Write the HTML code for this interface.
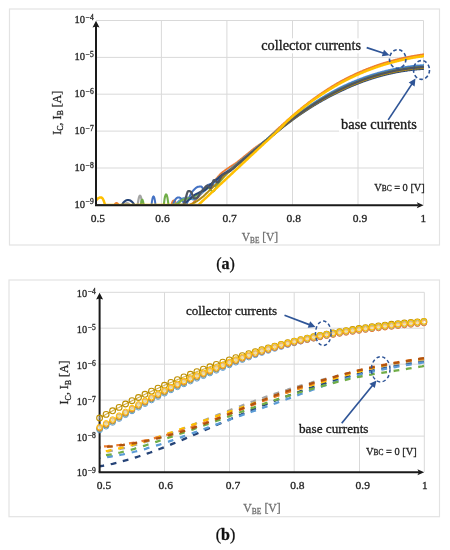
<!DOCTYPE html><html><head><meta charset="utf-8"><style>html,body{margin:0;padding:0;background:#fff;}svg{display:block;}text{font-family:"Liberation Serif",serif;stroke-width:0.3px;}</style></head><body>
<svg width="450" height="550" viewBox="0 0 450 550">
<defs><clipPath id="ca"><rect x="96" y="15" width="328" height="189.3"/></clipPath><clipPath id="cb"><rect x="99.6" y="285" width="326" height="186.3"/></clipPath></defs>
<rect x="0" y="0" width="450" height="550" fill="#fff"/>
<rect x="9.5" y="9" width="430" height="236" fill="none" stroke="#e3e3e3" stroke-width="1.2"/>
<path d="M161.4 20.5V204.8 M226.9 20.5V204.8 M292.5 20.5V204.8 M358.0 20.5V204.8 M423.5 20.5V204.8 M96.0 20.5H423.5 M96.0 57.4H423.5 M96.0 94.2H423.5 M96.0 131.1H423.5 M96.0 168.0H423.5" stroke="#d9d9d9" stroke-width="1" fill="none"/>
<g clip-path="url(#ca)" fill="none" stroke-linejoin="round" stroke-linecap="round">
<path d="M94.0 205.0L94.5 205.0 95.0 205.0 95.5 205.0 96.0 205.0 96.5 205.0 97.0 205.0 97.5 205.0 98.0 205.0 98.5 205.0 99.0 205.0 99.5 205.0 100.0 205.0 100.5 205.0 101.0 205.0 101.5 205.0 102.0 205.0 102.5 205.0 103.0 205.0 103.5 205.0 104.0 205.0 104.5 205.0 105.0 205.0 105.5 205.0 106.0 205.0 106.5 205.0 107.0 205.0 107.5 205.0 108.0 205.0 108.5 205.0 109.0 205.0 109.5 205.0 110.0 205.0 110.5 205.0 111.0 205.0 111.5 205.0 112.0 205.0 112.5 205.0 113.0 205.0 113.5 205.0 114.0 205.0 114.5 205.0 115.0 204.0 115.5 203.4 116.0 203.1 116.5 203.0 117.0 203.1 117.5 203.4 118.0 204.0 118.5 205.0 119.0 205.0 119.5 205.0 120.0 205.0 120.5 205.0 121.0 205.0 121.5 205.0 122.0 205.0 122.5 205.0 123.0 205.0 123.5 205.0 124.0 205.0 124.5 205.0 125.0 205.0 125.5 205.0 126.0 205.0 126.5 205.0 127.0 205.0 127.5 205.0 128.0 205.0 128.5 205.0 129.0 205.0 129.5 205.0 130.0 205.0 130.5 205.0 131.0 205.0 131.5 205.0 132.0 205.0 132.5 205.0 133.0 205.0 133.5 205.0 134.0 205.0 134.5 205.0 135.0 205.0 135.5 205.0 136.0 205.0 136.5 205.0 137.0 205.0 137.5 205.0 138.0 205.0 138.5 205.0 139.0 205.0 139.5 205.0 140.0 205.0 140.5 205.0 141.0 205.0 141.5 205.0 142.0 205.0 142.5 205.0 143.0 205.0 143.5 205.0 144.0 205.0 144.5 205.0 145.0 205.0 145.5 205.0 146.0 205.0 146.5 205.0 147.0 205.0 147.5 205.0 148.0 205.0 148.5 205.0 149.0 205.0 149.5 205.0 150.0 205.0 150.5 205.0 151.0 205.0 151.5 205.0 152.0 205.0 152.5 205.0 153.0 205.0 153.5 205.0 154.0 205.0 154.5 205.0 155.0 205.0 155.5 205.0 156.0 205.0 156.5 205.0 157.0 205.0 157.5 205.0 158.0 205.0 158.5 205.0 159.0 205.0 159.5 205.0 160.0 205.0 160.5 205.0 161.0 205.0 161.5 205.0 162.0 205.0 162.5 205.0 163.0 205.0 163.5 205.0 164.0 205.0 164.5 205.0 165.0 205.0 165.5 205.0 166.0 205.0 166.5 205.0 167.0 205.0 167.5 205.0 168.0 205.0 168.5 205.0 169.0 205.0 169.5 205.0 170.0 205.0 170.5 205.0 171.0 205.0 171.5 204.3 172.0 202.7 172.5 201.6 173.0 200.8 173.5 200.5 174.0 200.4 174.5 200.7 175.0 201.2 175.5 202.1 176.0 203.3 176.5 205.0 177.0 205.0 177.5 205.0 178.0 205.0 178.5 205.0 179.0 205.0 179.5 205.0 180.0 205.0 180.5 205.0 181.0 205.0 181.5 205.0 182.0 205.0 182.5 205.0 183.0 205.0 183.5 205.0 184.0 205.0 184.5 205.0 185.0 205.0 185.5 205.0 186.0 205.0 186.5 205.0 187.0 205.0 187.5 205.0 188.0 205.0 188.5 205.0 189.0 204.9 189.5 204.8 190.0 204.6 190.5 204.4 191.0 204.2 191.5 204.0 192.0 203.7 192.5 203.3 193.0 202.9 193.5 202.4 194.0 201.8 194.5 201.2 195.0 200.6 195.5 200.0 196.0 199.5 196.5 199.0 197.0 198.4 197.5 197.9 198.0 197.3 198.5 196.8 199.0 196.2 199.5 195.7 200.0 195.1 200.5 194.6 201.0 194.0 201.5 193.5 202.0 193.0 202.5 192.5 203.0 192.0 203.5 191.5 204.0 191.1 204.5 190.6 205.0 190.2 205.5 189.7 206.0 189.3 206.5 188.8 207.0 188.4 207.5 187.9 208.0 187.4 208.5 187.0 209.0 186.5 209.5 186.0 210.0 185.5 210.5 185.0 211.0 184.5 211.5 183.9 212.0 183.4 212.5 182.9 213.0 182.3 213.5 181.8 214.0 181.2 214.5 180.7 215.0 180.1 215.5 179.5 216.0 179.0 216.5 178.4 217.0 177.9 217.5 177.3 218.0 176.7 218.5 176.1 219.0 175.6 219.5 175.0 220.0 174.5 220.5 174.0 221.0 173.5 221.5 173.1 222.0 172.6 222.5 172.2 223.0 171.8 223.5 171.4 224.0 171.0 224.5 170.7 225.0 170.3 225.5 169.9 226.0 169.6 226.5 169.2 227.0 168.9 227.5 168.5 228.0 168.2 228.5 167.8 229.0 167.5 229.5 167.2 230.0 166.8 230.5 166.5 231.0 166.2 231.5 165.9 232.0 165.6 232.5 165.3 233.0 165.0 233.5 164.6 234.0 164.3 234.5 164.0 235.0 163.7 235.5 163.3 236.0 163.0 236.5 162.6 237.0 162.3 237.5 161.9 238.0 161.5 238.5 161.1 239.0 160.7 239.5 160.3 240.0 159.9 240.5 159.5 241.0 159.1 241.5 158.7 242.0 158.3 242.5 157.9 243.0 157.5 243.5 157.0 244.0 156.6 244.5 156.2 245.0 155.8 245.5 155.4 246.0 155.0 246.5 154.6 247.0 154.2 247.5 153.8 248.0 153.4 248.5 153.0 249.0 152.6 249.5 152.2 250.0 151.8 250.5 151.3 251.0 150.9 251.5 150.5 252.0 150.1 252.5 149.7 253.0 149.3 253.5 148.9 254.0 148.5 254.5 148.1 255.0 147.8 255.5 147.4 256.0 147.0 256.5 146.6 257.0 146.3 257.5 145.9 258.0 145.6 258.5 145.2 259.0 144.9 259.5 144.5 260.0 144.2 260.5 143.9 261.0 143.5 261.5 143.2 262.0 142.8 262.5 142.5 263.0 142.1 263.5 141.8 264.0 141.4 264.5 141.1 265.0 140.7 265.5 140.3 266.0 139.9 266.5 139.5 267.0 139.0 267.5 138.6 268.0 138.1 268.5 137.6 269.0 137.1 269.5 136.6 270.0 136.1 270.5 135.6 271.0 135.2 271.5 134.7 272.0 134.2 272.5 133.7 273.0 133.3 273.5 132.8 274.0 132.3 274.5 131.9 275.0 131.4 275.5 130.9 276.0 130.5 276.5 130.0 277.0 129.6 277.5 129.1 278.0 128.6 278.5 128.2 279.0 127.7 279.5 127.3 280.0 126.8 280.5 126.4 281.0 125.9 281.5 125.5 282.0 125.0 282.5 124.6 283.0 124.1 283.5 123.7 284.0 123.2 284.5 122.8 285.0 122.3 285.5 121.9 286.0 121.4 286.5 121.0 287.0 120.5 287.5 120.1 288.0 119.6 288.5 119.2 289.0 118.8 289.5 118.3 290.0 117.9 290.5 117.4 291.0 117.0 291.5 116.6 292.0 116.1 292.5 115.7 293.0 115.3 293.5 114.8 294.0 114.4 294.5 114.0 295.0 113.5 295.5 113.1 296.0 112.7 296.5 112.3 297.0 111.9 297.5 111.4 298.0 111.0 298.5 110.6 299.0 110.2 299.5 109.8 300.0 109.4 300.5 109.0 301.0 108.5 301.5 108.1 302.0 107.7 302.5 107.3 303.0 106.9 303.5 106.5 304.0 106.1 304.5 105.7 305.0 105.3 305.5 104.9 306.0 104.5 306.5 104.2 307.0 103.8 307.5 103.4 308.0 103.0 308.5 102.6 309.0 102.2 309.5 101.8 310.0 101.5 310.5 101.1 311.0 100.7 311.5 100.3 312.0 100.0 312.5 99.6 313.0 99.2 313.5 98.9 314.0 98.5 314.5 98.1 315.0 97.8 315.5 97.4 316.0 97.1 316.5 96.7 317.0 96.3 317.5 96.0 318.0 95.6 318.5 95.3 319.0 94.9 319.5 94.6 320.0 94.2 320.5 93.9 321.0 93.6 321.5 93.2 322.0 92.9 322.5 92.5 323.0 92.2 323.5 91.9 324.0 91.5 324.5 91.2 325.0 90.9 325.5 90.5 326.0 90.2 326.5 89.9 327.0 89.6 327.5 89.2 328.0 88.9 328.5 88.6 329.0 88.3 329.5 88.0 330.0 87.7 330.5 87.3 331.0 87.0 331.5 86.7 332.0 86.4 332.5 86.1 333.0 85.8 333.5 85.5 334.0 85.2 334.5 84.9 335.0 84.6 335.5 84.3 336.0 84.0 336.5 83.7 337.0 83.4 337.5 83.1 338.0 82.8 338.5 82.6 339.0 82.3 339.5 82.0 340.0 81.7 340.5 81.4 341.0 81.2 341.5 80.9 342.0 80.6 342.5 80.4 343.0 80.1 343.5 79.8 344.0 79.6 344.5 79.3 345.0 79.0 345.5 78.8 346.0 78.5 346.5 78.3 347.0 78.0 347.5 77.8 348.0 77.5 348.5 77.3 349.0 77.0 349.5 76.8 350.0 76.5 350.5 76.3 351.0 76.0 351.5 75.8 352.0 75.6 352.5 75.3 353.0 75.1 353.5 74.8 354.0 74.6 354.5 74.4 355.0 74.1 355.5 73.9 356.0 73.7 356.5 73.5 357.0 73.2 357.5 73.0 358.0 72.8 358.5 72.6 359.0 72.4 359.5 72.1 360.0 71.9 360.5 71.7 361.0 71.5 361.5 71.3 362.0 71.1 362.5 70.9 363.0 70.6 363.5 70.4 364.0 70.2 364.5 70.0 365.0 69.8 365.5 69.6 366.0 69.4 366.5 69.2 367.0 69.0 367.5 68.8 368.0 68.6 368.5 68.4 369.0 68.2 369.5 68.1 370.0 67.9 370.5 67.7 371.0 67.5 371.5 67.3 372.0 67.1 372.5 66.9 373.0 66.7 373.5 66.6 374.0 66.4 374.5 66.2 375.0 66.0 375.5 65.9 376.0 65.7 376.5 65.5 377.0 65.3 377.5 65.2 378.0 65.0 378.5 64.8 379.0 64.7 379.5 64.5 380.0 64.3 380.5 64.2 381.0 64.0 381.5 63.8 382.0 63.7 382.5 63.5 383.0 63.4 383.5 63.2 384.0 63.0 384.5 62.9 385.0 62.7 385.5 62.6 386.0 62.4 386.5 62.3 387.0 62.1 387.5 62.0 388.0 61.9 388.5 61.7 389.0 61.6 389.5 61.4 390.0 61.3 390.5 61.1 391.0 61.0 391.5 60.9 392.0 60.7 392.5 60.6 393.0 60.5 393.5 60.3 394.0 60.2 394.5 60.1 395.0 59.9 395.5 59.8 396.0 59.7 396.5 59.6 397.0 59.4 397.5 59.3 398.0 59.2 398.5 59.1 399.0 58.9 399.5 58.8 400.0 58.7 400.5 58.6 401.0 58.5 401.5 58.4 402.0 58.2 402.5 58.1 403.0 58.0 403.5 57.9 404.0 57.8 404.5 57.7 405.0 57.6 405.5 57.5 406.0 57.4 406.5 57.3 407.0 57.2 407.5 57.1 408.0 57.0 408.5 56.9 409.0 56.8 409.5 56.7 410.0 56.6 410.5 56.5 411.0 56.4 411.5 56.3 412.0 56.2 412.5 56.1 413.0 56.0 413.5 55.9 414.0 55.9 414.5 55.8 415.0 55.7 415.5 55.6 416.0 55.5 416.5 55.4 417.0 55.4 417.5 55.3 418.0 55.2 418.5 55.1 419.0 55.0 419.5 55.0 420.0 54.9 420.5 54.8 421.0 54.7 421.5 54.7 422.0 54.6 422.5 54.5 423.0 54.4 423.5 54.4 424.0 54.3 424.5 54.2 425.0 54.2" stroke="#ed7d31" stroke-width="1.9"/>
<path d="M94.0 205.0L94.5 205.0 95.0 205.0 95.5 205.0 96.0 205.0 96.5 205.0 97.0 205.0 97.5 205.0 98.0 205.0 98.5 205.0 99.0 205.0 99.5 205.0 100.0 205.0 100.5 205.0 101.0 205.0 101.5 205.0 102.0 205.0 102.5 205.0 103.0 205.0 103.5 205.0 104.0 205.0 104.5 205.0 105.0 205.0 105.5 205.0 106.0 205.0 106.5 205.0 107.0 205.0 107.5 205.0 108.0 205.0 108.5 205.0 109.0 205.0 109.5 205.0 110.0 205.0 110.5 205.0 111.0 205.0 111.5 205.0 112.0 205.0 112.5 205.0 113.0 205.0 113.5 205.0 114.0 205.0 114.5 205.0 115.0 205.0 115.5 205.0 116.0 205.0 116.5 205.0 117.0 205.0 117.5 205.0 118.0 205.0 118.5 205.0 119.0 205.0 119.5 205.0 120.0 205.0 120.5 205.0 121.0 205.0 121.5 205.0 122.0 205.0 122.5 205.0 123.0 205.0 123.5 205.0 124.0 205.0 124.5 204.6 125.0 204.1 125.5 203.7 126.0 203.4 126.5 203.3 127.0 203.2 127.5 203.3 128.0 203.4 128.5 203.7 129.0 204.1 129.5 204.6 130.0 205.0 130.5 205.0 131.0 205.0 131.5 205.0 132.0 205.0 132.5 205.0 133.0 205.0 133.5 205.0 134.0 205.0 134.5 205.0 135.0 205.0 135.5 205.0 136.0 205.0 136.5 205.0 137.0 205.0 137.5 205.0 138.0 202.6 138.5 199.4 139.0 197.3 139.5 196.0 140.0 195.6 140.5 196.0 141.0 197.3 141.5 199.4 142.0 202.6 142.5 205.0 143.0 205.0 143.5 205.0 144.0 205.0 144.5 205.0 145.0 205.0 145.5 205.0 146.0 205.0 146.5 205.0 147.0 205.0 147.5 205.0 148.0 205.0 148.5 205.0 149.0 205.0 149.5 205.0 150.0 205.0 150.5 205.0 151.0 205.0 151.5 205.0 152.0 205.0 152.5 205.0 153.0 205.0 153.5 205.0 154.0 205.0 154.5 205.0 155.0 205.0 155.5 205.0 156.0 205.0 156.5 205.0 157.0 205.0 157.5 205.0 158.0 205.0 158.5 205.0 159.0 205.0 159.5 205.0 160.0 205.0 160.5 205.0 161.0 205.0 161.5 205.0 162.0 205.0 162.5 205.0 163.0 205.0 163.5 205.0 164.0 205.0 164.5 205.0 165.0 205.0 165.5 205.0 166.0 205.0 166.5 205.0 167.0 205.0 167.5 205.0 168.0 205.0 168.5 205.0 169.0 205.0 169.5 205.0 170.0 205.0 170.5 205.0 171.0 205.0 171.5 205.0 172.0 205.0 172.5 204.9 173.0 204.7 173.5 204.5 174.0 204.4 174.5 204.2 175.0 204.0 175.5 203.7 176.0 203.5 176.5 203.2 177.0 203.0 177.5 202.6 178.0 202.3 178.5 202.0 179.0 201.6 179.5 201.3 180.0 201.0 180.5 200.7 181.0 200.3 181.5 199.9 182.0 199.6 182.5 199.2 183.0 198.8 183.5 198.4 184.0 198.1 184.5 197.9 185.0 197.7 185.5 197.5 186.0 197.5 186.5 197.5 187.0 197.6 187.5 197.6 188.0 197.7 188.5 197.8 189.0 198.0 189.5 198.1 190.0 198.2 190.5 198.4 191.0 198.5 191.5 198.7 192.0 198.8 192.5 198.9 193.0 198.9 193.5 199.0 194.0 199.0 194.5 198.9 195.0 198.8 195.5 198.6 196.0 198.2 196.5 197.8 197.0 197.4 197.5 196.9 198.0 196.4 198.5 195.8 199.0 195.2 199.5 194.7 200.0 194.1 200.5 193.5 201.0 193.0 201.5 192.5 202.0 192.0 202.5 191.6 203.0 191.1 203.5 190.7 204.0 190.2 204.5 189.8 205.0 189.4 205.5 188.9 206.0 188.5 206.5 188.0 207.0 187.6 207.5 187.2 208.0 186.7 208.5 186.3 209.0 185.9 209.5 185.4 210.0 185.0 210.5 184.6 211.0 184.1 211.5 183.7 212.0 183.2 212.5 182.8 213.0 182.3 213.5 181.9 214.0 181.4 214.5 181.0 215.0 180.6 215.5 180.1 216.0 179.7 216.5 179.2 217.0 178.8 217.5 178.4 218.0 178.0 218.5 177.6 219.0 177.2 219.5 176.9 220.0 176.5 220.5 176.2 221.0 175.8 221.5 175.5 222.0 175.2 222.5 174.9 223.0 174.6 223.5 174.3 224.0 174.0 224.5 173.8 225.0 173.5 225.5 173.2 226.0 172.9 226.5 172.7 227.0 172.4 227.5 172.1 228.0 171.8 228.5 171.5 229.0 171.2 229.5 170.8 230.0 170.5 230.5 170.1 231.0 169.8 231.5 169.4 232.0 169.0 232.5 168.6 233.0 168.2 233.5 167.8 234.0 167.3 234.5 166.9 235.0 166.5 235.5 166.0 236.0 165.6 236.5 165.1 237.0 164.7 237.5 164.2 238.0 163.8 238.5 163.3 239.0 162.9 239.5 162.4 240.0 162.0 240.5 161.5 241.0 161.1 241.5 160.7 242.0 160.3 242.5 159.8 243.0 159.4 243.5 159.0 244.0 158.6 244.5 158.2 245.0 157.8 245.5 157.4 246.0 157.0 246.5 156.6 247.0 156.2 247.5 155.8 248.0 155.4 248.5 155.0 249.0 154.6 249.5 154.2 250.0 153.8 250.5 153.3 251.0 152.9 251.5 152.5 252.0 152.1 252.5 151.7 253.0 151.3 253.5 150.9 254.0 150.4 254.5 150.0 255.0 149.6 255.5 149.2 256.0 148.8 256.5 148.3 257.0 147.9 257.5 147.5 258.0 147.1 258.5 146.7 259.0 146.2 259.5 145.8 260.0 145.4 260.5 145.0 261.0 144.6 261.5 144.1 262.0 143.7 262.5 143.3 263.0 142.9 263.5 142.5 264.0 142.0 264.5 141.6 265.0 141.2 265.5 140.8 266.0 140.3 266.5 139.9 267.0 139.5 267.5 139.1 268.0 138.7 268.5 138.2 269.0 137.8 269.5 137.4 270.0 137.0 270.5 136.6 271.0 136.1 271.5 135.7 272.0 135.3 272.5 134.9 273.0 134.5 273.5 134.1 274.0 133.6 274.5 133.2 275.0 132.8 275.5 132.4 276.0 132.0 276.5 131.6 277.0 131.2 277.5 130.7 278.0 130.3 278.5 129.9 279.0 129.5 279.5 129.1 280.0 128.7 280.5 128.3 281.0 127.9 281.5 127.5 282.0 127.1 282.5 126.7 283.0 126.3 283.5 125.9 284.0 125.5 284.5 125.1 285.0 124.7 285.5 124.3 286.0 123.9 286.5 123.5 287.0 123.1 287.5 122.7 288.0 122.3 288.5 121.9 289.0 121.5 289.5 121.1 290.0 120.7 290.5 120.3 291.0 119.9 291.5 119.6 292.0 119.2 292.5 118.8 293.0 118.4 293.5 118.0 294.0 117.7 294.5 117.3 295.0 116.9 295.5 116.5 296.0 116.2 296.5 115.8 297.0 115.4 297.5 115.1 298.0 114.7 298.5 114.3 299.0 114.0 299.5 113.6 300.0 113.2 300.5 112.9 301.0 112.5 301.5 112.2 302.0 111.8 302.5 111.5 303.0 111.1 303.5 110.8 304.0 110.4 304.5 110.1 305.0 109.7 305.5 109.4 306.0 109.0 306.5 108.7 307.0 108.3 307.5 108.0 308.0 107.7 308.5 107.3 309.0 107.0 309.5 106.7 310.0 106.3 310.5 106.0 311.0 105.7 311.5 105.3 312.0 105.0 312.5 104.7 313.0 104.4 313.5 104.1 314.0 103.7 314.5 103.4 315.0 103.1 315.5 102.8 316.0 102.5 316.5 102.2 317.0 101.8 317.5 101.5 318.0 101.2 318.5 100.9 319.0 100.6 319.5 100.3 320.0 100.0 320.5 99.7 321.0 99.4 321.5 99.1 322.0 98.8 322.5 98.5 323.0 98.2 323.5 97.9 324.0 97.6 324.5 97.3 325.0 97.0 325.5 96.8 326.0 96.5 326.5 96.2 327.0 95.9 327.5 95.6 328.0 95.3 328.5 95.1 329.0 94.8 329.5 94.5 330.0 94.2 330.5 94.0 331.0 93.7 331.5 93.4 332.0 93.1 332.5 92.9 333.0 92.6 333.5 92.3 334.0 92.1 334.5 91.8 335.0 91.6 335.5 91.3 336.0 91.0 336.5 90.8 337.0 90.5 337.5 90.3 338.0 90.0 338.5 89.8 339.0 89.5 339.5 89.3 340.0 89.0 340.5 88.8 341.0 88.5 341.5 88.3 342.0 88.0 342.5 87.8 343.0 87.6 343.5 87.3 344.0 87.1 344.5 86.9 345.0 86.6 345.5 86.4 346.0 86.2 346.5 85.9 347.0 85.7 347.5 85.5 348.0 85.3 348.5 85.0 349.0 84.8 349.5 84.6 350.0 84.4 350.5 84.2 351.0 84.0 351.5 83.7 352.0 83.5 352.5 83.3 353.0 83.1 353.5 82.9 354.0 82.7 354.5 82.5 355.0 82.3 355.5 82.1 356.0 81.9 356.5 81.7 357.0 81.5 357.5 81.3 358.0 81.1 358.5 80.9 359.0 80.7 359.5 80.5 360.0 80.3 360.5 80.1 361.0 79.9 361.5 79.7 362.0 79.6 362.5 79.4 363.0 79.2 363.5 79.0 364.0 78.8 364.5 78.6 365.0 78.5 365.5 78.3 366.0 78.1 366.5 77.9 367.0 77.8 367.5 77.6 368.0 77.4 368.5 77.2 369.0 77.1 369.5 76.9 370.0 76.8 370.5 76.6 371.0 76.4 371.5 76.3 372.0 76.1 372.5 75.9 373.0 75.8 373.5 75.6 374.0 75.5 374.5 75.3 375.0 75.2 375.5 75.0 376.0 74.9 376.5 74.7 377.0 74.6 377.5 74.4 378.0 74.3 378.5 74.1 379.0 74.0 379.5 73.9 380.0 73.7 380.5 73.6 381.0 73.4 381.5 73.3 382.0 73.2 382.5 73.0 383.0 72.9 383.5 72.8 384.0 72.7 384.5 72.5 385.0 72.4 385.5 72.3 386.0 72.1 386.5 72.0 387.0 71.9 387.5 71.8 388.0 71.7 388.5 71.5 389.0 71.4 389.5 71.3 390.0 71.2 390.5 71.1 391.0 71.0 391.5 70.9 392.0 70.8 392.5 70.7 393.0 70.5 393.5 70.4 394.0 70.3 394.5 70.2 395.0 70.1 395.5 70.0 396.0 69.9 396.5 69.8 397.0 69.7 397.5 69.6 398.0 69.6 398.5 69.5 399.0 69.4 399.5 69.3 400.0 69.2 400.5 69.1 401.0 69.0 401.5 68.9 402.0 68.9 402.5 68.8 403.0 68.7 403.5 68.6 404.0 68.5 404.5 68.5 405.0 68.4 405.5 68.3 406.0 68.2 406.5 68.2 407.0 68.1 407.5 68.0 408.0 67.9 408.5 67.9 409.0 67.8 409.5 67.7 410.0 67.7 410.5 67.6 411.0 67.6 411.5 67.5 412.0 67.4 412.5 67.4 413.0 67.3 413.5 67.3 414.0 67.2 414.5 67.2 415.0 67.1 415.5 67.1 416.0 67.0 416.5 67.0 417.0 66.9 417.5 66.9 418.0 66.8 418.5 66.8 419.0 66.7 419.5 66.7 420.0 66.7 420.5 66.6 421.0 66.6 421.5 66.6 422.0 66.5 422.5 66.5 423.0 66.5 423.5 66.4 424.0 66.4 424.5 66.4 425.0 66.3" stroke="#a5a5a5" stroke-width="2.2"/>
<path d="M94.0 205.0L94.5 205.0 95.0 205.0 95.5 205.0 96.0 205.0 96.5 205.0 97.0 205.0 97.5 205.0 98.0 205.0 98.5 205.0 99.0 205.0 99.5 205.0 100.0 205.0 100.5 205.0 101.0 205.0 101.5 205.0 102.0 205.0 102.5 205.0 103.0 205.0 103.5 205.0 104.0 205.0 104.5 205.0 105.0 205.0 105.5 205.0 106.0 205.0 106.5 205.0 107.0 205.0 107.5 205.0 108.0 205.0 108.5 205.0 109.0 205.0 109.5 205.0 110.0 205.0 110.5 205.0 111.0 205.0 111.5 205.0 112.0 205.0 112.5 205.0 113.0 205.0 113.5 205.0 114.0 205.0 114.5 205.0 115.0 205.0 115.5 205.0 116.0 205.0 116.5 205.0 117.0 205.0 117.5 205.0 118.0 205.0 118.5 205.0 119.0 205.0 119.5 205.0 120.0 205.0 120.5 205.0 121.0 205.0 121.5 205.0 122.0 205.0 122.5 205.0 123.0 205.0 123.5 205.0 124.0 205.0 124.5 205.0 125.0 205.0 125.5 205.0 126.0 205.0 126.5 205.0 127.0 205.0 127.5 205.0 128.0 205.0 128.5 205.0 129.0 205.0 129.5 205.0 130.0 205.0 130.5 205.0 131.0 205.0 131.5 205.0 132.0 205.0 132.5 205.0 133.0 205.0 133.5 205.0 134.0 205.0 134.5 205.0 135.0 205.0 135.5 205.0 136.0 205.0 136.5 205.0 137.0 205.0 137.5 205.0 138.0 205.0 138.5 205.0 139.0 205.0 139.5 205.0 140.0 205.0 140.5 205.0 141.0 205.0 141.5 205.0 142.0 205.0 142.5 205.0 143.0 205.0 143.5 205.0 144.0 205.0 144.5 205.0 145.0 205.0 145.5 205.0 146.0 205.0 146.5 205.0 147.0 205.0 147.5 205.0 148.0 205.0 148.5 205.0 149.0 205.0 149.5 205.0 150.0 205.0 150.5 205.0 151.0 205.0 151.5 205.0 152.0 205.0 152.5 205.0 153.0 205.0 153.5 205.0 154.0 205.0 154.5 205.0 155.0 205.0 155.5 205.0 156.0 205.0 156.5 205.0 157.0 205.0 157.5 205.0 158.0 205.0 158.5 205.0 159.0 205.0 159.5 205.0 160.0 205.0 160.5 205.0 161.0 205.0 161.5 205.0 162.0 205.0 162.5 205.0 163.0 205.0 163.5 205.0 164.0 205.0 164.5 205.0 165.0 205.0 165.5 205.0 166.0 205.0 166.5 205.0 167.0 205.0 167.5 205.0 168.0 205.0 168.5 205.0 169.0 205.0 169.5 205.0 170.0 205.0 170.5 205.0 171.0 205.0 171.5 205.0 172.0 205.0 172.5 205.0 173.0 205.0 173.5 205.0 174.0 205.0 174.5 205.0 175.0 205.0 175.5 205.0 176.0 205.0 176.5 204.2 177.0 203.4 177.5 202.7 178.0 202.1 178.5 201.5 179.0 201.0 179.5 200.6 180.0 200.2 180.5 199.8 181.0 199.4 181.5 199.1 182.0 198.8 182.5 198.6 183.0 198.5 183.5 198.4 184.0 198.3 184.5 198.3 185.0 198.2 185.5 198.1 186.0 198.1 186.5 198.1 187.0 198.0 187.5 198.0 188.0 198.0 188.5 198.0 189.0 198.1 189.5 198.2 190.0 198.4 190.5 198.6 191.0 198.8 191.5 198.9 192.0 199.1 192.5 199.3 193.0 199.4 193.5 199.5 194.0 199.5 194.5 199.4 195.0 199.2 195.5 199.0 196.0 198.6 196.5 198.1 197.0 197.6 197.5 197.1 198.0 196.5 198.5 196.0 199.0 195.5 199.5 195.0 200.0 194.5 200.5 194.1 201.0 193.7 201.5 193.2 202.0 192.8 202.5 192.4 203.0 192.0 203.5 191.5 204.0 191.1 204.5 190.7 205.0 190.2 205.5 189.8 206.0 189.4 206.5 189.0 207.0 188.5 207.5 188.1 208.0 187.7 208.5 187.3 209.0 186.8 209.5 186.4 210.0 186.0 210.5 185.6 211.0 185.2 211.5 184.7 212.0 184.3 212.5 183.9 213.0 183.5 213.5 183.1 214.0 182.7 214.5 182.3 215.0 181.8 215.5 181.4 216.0 181.0 216.5 180.6 217.0 180.2 217.5 179.8 218.0 179.4 218.5 179.0 219.0 178.5 219.5 178.1 220.0 177.7 220.5 177.3 221.0 176.9 221.5 176.5 222.0 176.1 222.5 175.7 223.0 175.3 223.5 174.9 224.0 174.5 224.5 174.0 225.0 173.6 225.5 173.2 226.0 172.8 226.5 172.4 227.0 172.0 227.5 171.6 228.0 171.2 228.5 170.8 229.0 170.4 229.5 170.0 230.0 169.5 230.5 169.1 231.0 168.7 231.5 168.3 232.0 167.9 232.5 167.5 233.0 167.1 233.5 166.7 234.0 166.3 234.5 165.9 235.0 165.5 235.5 165.1 236.0 164.7 236.5 164.3 237.0 163.9 237.5 163.5 238.0 163.0 238.5 162.6 239.0 162.2 239.5 161.8 240.0 161.4 240.5 161.0 241.0 160.6 241.5 160.2 242.0 159.8 242.5 159.4 243.0 159.0 243.5 158.6 244.0 158.2 244.5 157.8 245.0 157.4 245.5 157.0 246.0 156.6 246.5 156.2 247.0 155.8 247.5 155.4 248.0 154.9 248.5 154.5 249.0 154.1 249.5 153.7 250.0 153.3 250.5 152.9 251.0 152.5 251.5 152.1 252.0 151.6 252.5 151.2 253.0 150.8 253.5 150.4 254.0 150.0 254.5 149.6 255.0 149.1 255.5 148.7 256.0 148.3 256.5 147.9 257.0 147.5 257.5 147.1 258.0 146.6 258.5 146.2 259.0 145.8 259.5 145.4 260.0 144.9 260.5 144.5 261.0 144.1 261.5 143.7 262.0 143.3 262.5 142.8 263.0 142.4 263.5 142.0 264.0 141.6 264.5 141.2 265.0 140.7 265.5 140.3 266.0 139.9 266.5 139.5 267.0 139.0 267.5 138.6 268.0 138.2 268.5 137.8 269.0 137.4 269.5 136.9 270.0 136.5 270.5 136.1 271.0 135.7 271.5 135.3 272.0 134.9 272.5 134.4 273.0 134.0 273.5 133.6 274.0 133.2 274.5 132.8 275.0 132.4 275.5 131.9 276.0 131.5 276.5 131.1 277.0 130.7 277.5 130.3 278.0 129.9 278.5 129.5 279.0 129.1 279.5 128.7 280.0 128.2 280.5 127.8 281.0 127.4 281.5 127.0 282.0 126.6 282.5 126.2 283.0 125.8 283.5 125.4 284.0 125.0 284.5 124.6 285.0 124.2 285.5 123.8 286.0 123.4 286.5 123.0 287.0 122.6 287.5 122.2 288.0 121.8 288.5 121.4 289.0 121.0 289.5 120.6 290.0 120.2 290.5 119.8 291.0 119.4 291.5 119.0 292.0 118.6 292.5 118.2 293.0 117.8 293.5 117.5 294.0 117.1 294.5 116.7 295.0 116.3 295.5 115.9 296.0 115.5 296.5 115.2 297.0 114.8 297.5 114.4 298.0 114.0 298.5 113.7 299.0 113.3 299.5 112.9 300.0 112.6 300.5 112.2 301.0 111.8 301.5 111.5 302.0 111.1 302.5 110.7 303.0 110.4 303.5 110.0 304.0 109.7 304.5 109.3 305.0 109.0 305.5 108.6 306.0 108.3 306.5 107.9 307.0 107.6 307.5 107.2 308.0 106.9 308.5 106.5 309.0 106.2 309.5 105.8 310.0 105.5 310.5 105.2 311.0 104.8 311.5 104.5 312.0 104.2 312.5 103.8 313.0 103.5 313.5 103.2 314.0 102.8 314.5 102.5 315.0 102.2 315.5 101.9 316.0 101.5 316.5 101.2 317.0 100.9 317.5 100.6 318.0 100.3 318.5 99.9 319.0 99.6 319.5 99.3 320.0 99.0 320.5 98.7 321.0 98.4 321.5 98.1 322.0 97.8 322.5 97.5 323.0 97.2 323.5 96.9 324.0 96.6 324.5 96.3 325.0 96.0 325.5 95.7 326.0 95.4 326.5 95.1 327.0 94.8 327.5 94.5 328.0 94.2 328.5 93.9 329.0 93.7 329.5 93.4 330.0 93.1 330.5 92.8 331.0 92.5 331.5 92.2 332.0 92.0 332.5 91.7 333.0 91.4 333.5 91.1 334.0 90.9 334.5 90.6 335.0 90.3 335.5 90.1 336.0 89.8 336.5 89.5 337.0 89.3 337.5 89.0 338.0 88.7 338.5 88.5 339.0 88.2 339.5 88.0 340.0 87.7 340.5 87.5 341.0 87.2 341.5 87.0 342.0 86.8 342.5 86.5 343.0 86.3 343.5 86.0 344.0 85.8 344.5 85.6 345.0 85.3 345.5 85.1 346.0 84.9 346.5 84.6 347.0 84.4 347.5 84.2 348.0 84.0 348.5 83.7 349.0 83.5 349.5 83.3 350.0 83.1 350.5 82.9 351.0 82.7 351.5 82.4 352.0 82.2 352.5 82.0 353.0 81.8 353.5 81.6 354.0 81.4 354.5 81.2 355.0 81.0 355.5 80.8 356.0 80.6 356.5 80.4 357.0 80.2 357.5 80.0 358.0 79.8 358.5 79.6 359.0 79.4 359.5 79.2 360.0 79.0 360.5 78.8 361.0 78.6 361.5 78.4 362.0 78.3 362.5 78.1 363.0 77.9 363.5 77.7 364.0 77.5 364.5 77.3 365.0 77.2 365.5 77.0 366.0 76.8 366.5 76.6 367.0 76.5 367.5 76.3 368.0 76.1 368.5 75.9 369.0 75.8 369.5 75.6 370.0 75.5 370.5 75.3 371.0 75.1 371.5 75.0 372.0 74.8 372.5 74.6 373.0 74.5 373.5 74.3 374.0 74.2 374.5 74.0 375.0 73.9 375.5 73.7 376.0 73.6 376.5 73.4 377.0 73.3 377.5 73.1 378.0 73.0 378.5 72.8 379.0 72.7 379.5 72.6 380.0 72.4 380.5 72.3 381.0 72.1 381.5 72.0 382.0 71.9 382.5 71.7 383.0 71.6 383.5 71.5 384.0 71.4 384.5 71.2 385.0 71.1 385.5 71.0 386.0 70.8 386.5 70.7 387.0 70.6 387.5 70.5 388.0 70.4 388.5 70.2 389.0 70.1 389.5 70.0 390.0 69.9 390.5 69.8 391.0 69.7 391.5 69.6 392.0 69.5 392.5 69.4 393.0 69.2 393.5 69.1 394.0 69.0 394.5 68.9 395.0 68.8 395.5 68.7 396.0 68.6 396.5 68.5 397.0 68.4 397.5 68.3 398.0 68.3 398.5 68.2 399.0 68.1 399.5 68.0 400.0 67.9 400.5 67.8 401.0 67.7 401.5 67.6 402.0 67.6 402.5 67.5 403.0 67.4 403.5 67.3 404.0 67.2 404.5 67.2 405.0 67.1 405.5 67.0 406.0 66.9 406.5 66.9 407.0 66.8 407.5 66.7 408.0 66.6 408.5 66.6 409.0 66.5 409.5 66.4 410.0 66.4 410.5 66.3 411.0 66.3 411.5 66.2 412.0 66.1 412.5 66.1 413.0 66.0 413.5 66.0 414.0 65.9 414.5 65.9 415.0 65.8 415.5 65.8 416.0 65.7 416.5 65.7 417.0 65.6 417.5 65.6 418.0 65.5 418.5 65.5 419.0 65.4 419.5 65.4 420.0 65.4 420.5 65.3 421.0 65.3 421.5 65.3 422.0 65.2 422.5 65.2 423.0 65.2 423.5 65.1 424.0 65.1 424.5 65.1 425.0 65.0" stroke="#5b9bd5" stroke-width="2.0"/>
<path d="M94.0 205.0L94.5 205.0 95.0 205.0 95.5 205.0 96.0 205.0 96.5 205.0 97.0 205.0 97.5 205.0 98.0 205.0 98.5 205.0 99.0 205.0 99.5 205.0 100.0 205.0 100.5 205.0 101.0 205.0 101.5 205.0 102.0 205.0 102.5 205.0 103.0 205.0 103.5 205.0 104.0 205.0 104.5 205.0 105.0 205.0 105.5 205.0 106.0 205.0 106.5 205.0 107.0 205.0 107.5 205.0 108.0 205.0 108.5 205.0 109.0 205.0 109.5 205.0 110.0 205.0 110.5 205.0 111.0 205.0 111.5 205.0 112.0 205.0 112.5 205.0 113.0 205.0 113.5 205.0 114.0 205.0 114.5 205.0 115.0 205.0 115.5 205.0 116.0 205.0 116.5 205.0 117.0 205.0 117.5 205.0 118.0 205.0 118.5 205.0 119.0 205.0 119.5 205.0 120.0 205.0 120.5 205.0 121.0 205.0 121.5 205.0 122.0 205.0 122.5 205.0 123.0 205.0 123.5 205.0 124.0 205.0 124.5 205.0 125.0 205.0 125.5 205.0 126.0 205.0 126.5 205.0 127.0 205.0 127.5 205.0 128.0 205.0 128.5 205.0 129.0 205.0 129.5 205.0 130.0 205.0 130.5 205.0 131.0 205.0 131.5 205.0 132.0 205.0 132.5 205.0 133.0 205.0 133.5 205.0 134.0 205.0 134.5 205.0 135.0 205.0 135.5 205.0 136.0 205.0 136.5 205.0 137.0 205.0 137.5 205.0 138.0 205.0 138.5 205.0 139.0 205.0 139.5 205.0 140.0 205.0 140.5 205.0 141.0 205.0 141.5 205.0 142.0 205.0 142.5 205.0 143.0 205.0 143.5 205.0 144.0 205.0 144.5 205.0 145.0 205.0 145.5 205.0 146.0 205.0 146.5 205.0 147.0 205.0 147.5 205.0 148.0 205.0 148.5 205.0 149.0 205.0 149.5 205.0 150.0 205.0 150.5 205.0 151.0 205.0 151.5 205.0 152.0 201.1 152.5 198.5 153.0 196.9 153.5 196.4 154.0 196.9 154.5 198.5 155.0 201.1 155.5 205.0 156.0 205.0 156.5 205.0 157.0 205.0 157.5 205.0 158.0 205.0 158.5 205.0 159.0 205.0 159.5 205.0 160.0 205.0 160.5 205.0 161.0 205.0 161.5 205.0 162.0 205.0 162.5 205.0 163.0 205.0 163.5 205.0 164.0 205.0 164.5 205.0 165.0 205.0 165.5 205.0 166.0 205.0 166.5 205.0 167.0 205.0 167.5 205.0 168.0 205.0 168.5 205.0 169.0 205.0 169.5 205.0 170.0 205.0 170.5 205.0 171.0 205.0 171.5 205.0 172.0 205.0 172.5 205.0 173.0 205.0 173.5 203.1 174.0 201.9 174.5 200.9 175.0 200.1 175.5 199.3 176.0 198.8 176.5 198.3 177.0 197.9 177.5 197.6 178.0 197.5 178.5 197.4 179.0 197.5 179.5 197.6 180.0 197.9 180.5 198.2 181.0 198.7 181.5 199.2 182.0 199.9 182.5 200.6 183.0 201.5 183.5 202.6 184.0 204.0 184.5 205.0 185.0 205.0 185.5 205.0 186.0 205.0 186.5 205.0 187.0 203.4 187.5 201.9 188.0 200.5 188.5 199.2 189.0 198.0 189.5 196.9 190.0 195.8 190.5 194.8 191.0 193.8 191.5 192.9 192.0 192.1 192.5 191.4 193.0 190.8 193.5 190.2 194.0 189.7 194.5 189.2 195.0 188.7 195.5 188.3 196.0 187.9 196.5 187.5 197.0 187.2 197.5 187.0 198.0 186.8 198.5 186.7 199.0 186.7 199.5 186.6 200.0 186.5 200.5 186.5 201.0 186.5 201.5 186.7 202.0 187.2 202.5 187.9 203.0 188.6 203.5 189.3 204.0 189.8 204.5 190.0 205.0 189.8 205.5 189.1 206.0 188.2 206.5 187.2 207.0 186.2 207.5 185.5 208.0 185.0 208.5 184.8 209.0 184.6 209.5 184.4 210.0 184.2 210.5 184.1 211.0 184.0 211.5 184.0 212.0 184.1 212.5 184.4 213.0 184.8 213.5 185.2 214.0 185.6 214.5 185.9 215.0 186.0 215.5 185.7 216.0 185.0 216.5 183.9 217.0 182.6 217.5 181.2 218.0 179.9 218.5 178.8 219.0 178.0 219.5 177.5 220.0 177.0 220.5 176.5 221.0 176.1 221.5 175.8 222.0 175.4 222.5 175.1 223.0 174.7 223.5 174.4 224.0 174.0 224.5 173.6 225.0 173.2 225.5 172.9 226.0 172.5 226.5 172.1 227.0 171.7 227.5 171.4 228.0 171.0 228.5 170.6 229.0 170.3 229.5 169.9 230.0 169.5 230.5 169.1 231.0 168.7 231.5 168.3 232.0 168.0 232.5 167.6 233.0 167.2 233.5 166.8 234.0 166.4 234.5 166.0 235.0 165.6 235.5 165.2 236.0 164.8 236.5 164.4 237.0 164.0 237.5 163.6 238.0 163.2 238.5 162.8 239.0 162.4 239.5 162.0 240.0 161.6 240.5 161.2 241.0 160.8 241.5 160.4 242.0 160.0 242.5 159.6 243.0 159.2 243.5 158.8 244.0 158.4 244.5 158.0 245.0 157.6 245.5 157.2 246.0 156.8 246.5 156.4 247.0 156.0 247.5 155.6 248.0 155.2 248.5 154.8 249.0 154.4 249.5 154.0 250.0 153.5 250.5 153.1 251.0 152.7 251.5 152.3 252.0 151.9 252.5 151.5 253.0 151.1 253.5 150.6 254.0 150.2 254.5 149.8 255.0 149.4 255.5 149.0 256.0 148.6 256.5 148.1 257.0 147.7 257.5 147.3 258.0 146.9 258.5 146.5 259.0 146.0 259.5 145.6 260.0 145.2 260.5 144.8 261.0 144.4 261.5 143.9 262.0 143.5 262.5 143.1 263.0 142.7 263.5 142.2 264.0 141.8 264.5 141.4 265.0 141.0 265.5 140.6 266.0 140.1 266.5 139.7 267.0 139.3 267.5 138.9 268.0 138.5 268.5 138.0 269.0 137.6 269.5 137.2 270.0 136.8 270.5 136.4 271.0 135.9 271.5 135.5 272.0 135.1 272.5 134.7 273.0 134.3 273.5 133.8 274.0 133.4 274.5 133.0 275.0 132.6 275.5 132.2 276.0 131.8 276.5 131.4 277.0 130.9 277.5 130.5 278.0 130.1 278.5 129.7 279.0 129.3 279.5 128.9 280.0 128.5 280.5 128.1 281.0 127.7 281.5 127.3 282.0 126.9 282.5 126.5 283.0 126.1 283.5 125.7 284.0 125.3 284.5 124.9 285.0 124.4 285.5 124.0 286.0 123.6 286.5 123.2 287.0 122.8 287.5 122.4 288.0 122.0 288.5 121.7 289.0 121.3 289.5 120.9 290.0 120.5 290.5 120.1 291.0 119.7 291.5 119.3 292.0 118.9 292.5 118.5 293.0 118.1 293.5 117.8 294.0 117.4 294.5 117.0 295.0 116.6 295.5 116.2 296.0 115.9 296.5 115.5 297.0 115.1 297.5 114.8 298.0 114.4 298.5 114.0 299.0 113.7 299.5 113.3 300.0 112.9 300.5 112.6 301.0 112.2 301.5 111.8 302.0 111.5 302.5 111.1 303.0 110.8 303.5 110.4 304.0 110.1 304.5 109.7 305.0 109.4 305.5 109.0 306.0 108.7 306.5 108.3 307.0 108.0 307.5 107.6 308.0 107.3 308.5 107.0 309.0 106.6 309.5 106.3 310.0 105.9 310.5 105.6 311.0 105.3 311.5 105.0 312.0 104.6 312.5 104.3 313.0 104.0 313.5 103.6 314.0 103.3 314.5 103.0 315.0 102.7 315.5 102.4 316.0 102.0 316.5 101.7 317.0 101.4 317.5 101.1 318.0 100.8 318.5 100.5 319.0 100.2 319.5 99.9 320.0 99.5 320.5 99.2 321.0 98.9 321.5 98.6 322.0 98.3 322.5 98.0 323.0 97.7 323.5 97.4 324.0 97.1 324.5 96.8 325.0 96.6 325.5 96.3 326.0 96.0 326.5 95.7 327.0 95.4 327.5 95.1 328.0 94.8 328.5 94.5 329.0 94.3 329.5 94.0 330.0 93.7 330.5 93.4 331.0 93.1 331.5 92.9 332.0 92.6 332.5 92.3 333.0 92.1 333.5 91.8 334.0 91.5 334.5 91.3 335.0 91.0 335.5 90.7 336.0 90.5 336.5 90.2 337.0 89.9 337.5 89.7 338.0 89.4 338.5 89.2 339.0 88.9 339.5 88.7 340.0 88.4 340.5 88.2 341.0 87.9 341.5 87.7 342.0 87.4 342.5 87.2 343.0 87.0 343.5 86.7 344.0 86.5 344.5 86.3 345.0 86.0 345.5 85.8 346.0 85.6 346.5 85.3 347.0 85.1 347.5 84.9 348.0 84.7 348.5 84.4 349.0 84.2 349.5 84.0 350.0 83.8 350.5 83.6 351.0 83.4 351.5 83.1 352.0 82.9 352.5 82.7 353.0 82.5 353.5 82.3 354.0 82.1 354.5 81.9 355.0 81.7 355.5 81.5 356.0 81.3 356.5 81.1 357.0 80.9 357.5 80.7 358.0 80.5 358.5 80.3 359.0 80.1 359.5 79.9 360.0 79.7 360.5 79.5 361.0 79.3 361.5 79.1 362.0 79.0 362.5 78.8 363.0 78.6 363.5 78.4 364.0 78.2 364.5 78.0 365.0 77.9 365.5 77.7 366.0 77.5 366.5 77.3 367.0 77.2 367.5 77.0 368.0 76.8 368.5 76.6 369.0 76.5 369.5 76.3 370.0 76.2 370.5 76.0 371.0 75.8 371.5 75.7 372.0 75.5 372.5 75.3 373.0 75.2 373.5 75.0 374.0 74.9 374.5 74.7 375.0 74.6 375.5 74.4 376.0 74.3 376.5 74.1 377.0 74.0 377.5 73.8 378.0 73.7 378.5 73.5 379.0 73.4 379.5 73.3 380.0 73.1 380.5 73.0 381.0 72.8 381.5 72.7 382.0 72.6 382.5 72.4 383.0 72.3 383.5 72.2 384.0 72.1 384.5 71.9 385.0 71.8 385.5 71.7 386.0 71.5 386.5 71.4 387.0 71.3 387.5 71.2 388.0 71.1 388.5 70.9 389.0 70.8 389.5 70.7 390.0 70.6 390.5 70.5 391.0 70.4 391.5 70.3 392.0 70.2 392.5 70.1 393.0 69.9 393.5 69.8 394.0 69.7 394.5 69.6 395.0 69.5 395.5 69.4 396.0 69.3 396.5 69.2 397.0 69.1 397.5 69.0 398.0 69.0 398.5 68.9 399.0 68.8 399.5 68.7 400.0 68.6 400.5 68.5 401.0 68.4 401.5 68.3 402.0 68.3 402.5 68.2 403.0 68.1 403.5 68.0 404.0 67.9 404.5 67.9 405.0 67.8 405.5 67.7 406.0 67.6 406.5 67.6 407.0 67.5 407.5 67.4 408.0 67.3 408.5 67.3 409.0 67.2 409.5 67.1 410.0 67.1 410.5 67.0 411.0 67.0 411.5 66.9 412.0 66.8 412.5 66.8 413.0 66.7 413.5 66.7 414.0 66.6 414.5 66.6 415.0 66.5 415.5 66.5 416.0 66.4 416.5 66.4 417.0 66.3 417.5 66.3 418.0 66.2 418.5 66.2 419.0 66.1 419.5 66.1 420.0 66.1 420.5 66.0 421.0 66.0 421.5 66.0 422.0 65.9 422.5 65.9 423.0 65.9 423.5 65.8 424.0 65.8 424.5 65.8 425.0 65.7" stroke="#4472c4" stroke-width="2.0"/>
<path d="M94.0 205.0L94.5 205.0 95.0 205.0 95.5 205.0 96.0 205.0 96.5 205.0 97.0 205.0 97.5 205.0 98.0 205.0 98.5 205.0 99.0 205.0 99.5 205.0 100.0 205.0 100.5 205.0 101.0 205.0 101.5 205.0 102.0 205.0 102.5 205.0 103.0 205.0 103.5 205.0 104.0 205.0 104.5 205.0 105.0 205.0 105.5 205.0 106.0 205.0 106.5 205.0 107.0 205.0 107.5 205.0 108.0 205.0 108.5 205.0 109.0 205.0 109.5 205.0 110.0 205.0 110.5 205.0 111.0 205.0 111.5 205.0 112.0 205.0 112.5 205.0 113.0 205.0 113.5 205.0 114.0 205.0 114.5 205.0 115.0 205.0 115.5 205.0 116.0 205.0 116.5 205.0 117.0 205.0 117.5 205.0 118.0 205.0 118.5 205.0 119.0 205.0 119.5 205.0 120.0 205.0 120.5 205.0 121.0 205.0 121.5 205.0 122.0 205.0 122.5 205.0 123.0 205.0 123.5 205.0 124.0 205.0 124.5 205.0 125.0 205.0 125.5 205.0 126.0 205.0 126.5 205.0 127.0 205.0 127.5 205.0 128.0 205.0 128.5 205.0 129.0 205.0 129.5 205.0 130.0 205.0 130.5 205.0 131.0 205.0 131.5 205.0 132.0 205.0 132.5 205.0 133.0 205.0 133.5 205.0 134.0 205.0 134.5 205.0 135.0 205.0 135.5 205.0 136.0 205.0 136.5 205.0 137.0 205.0 137.5 205.0 138.0 205.0 138.5 205.0 139.0 205.0 139.5 205.0 140.0 205.0 140.5 205.0 141.0 203.0 141.5 200.6 142.0 199.6 142.5 199.9 143.0 201.3 143.5 203.9 144.0 205.0 144.5 205.0 145.0 205.0 145.5 205.0 146.0 205.0 146.5 205.0 147.0 205.0 147.5 205.0 148.0 205.0 148.5 205.0 149.0 205.0 149.5 205.0 150.0 205.0 150.5 205.0 151.0 205.0 151.5 205.0 152.0 205.0 152.5 205.0 153.0 205.0 153.5 205.0 154.0 205.0 154.5 205.0 155.0 205.0 155.5 205.0 156.0 205.0 156.5 205.0 157.0 205.0 157.5 205.0 158.0 205.0 158.5 205.0 159.0 205.0 159.5 205.0 160.0 205.0 160.5 205.0 161.0 205.0 161.5 205.0 162.0 205.0 162.5 205.0 163.0 205.0 163.5 205.0 164.0 203.3 164.5 199.3 165.0 196.7 165.5 195.1 166.0 194.4 166.5 194.7 167.0 195.9 167.5 198.1 168.0 201.4 168.5 205.0 169.0 205.0 169.5 205.0 170.0 205.0 170.5 205.0 171.0 205.0 171.5 205.0 172.0 205.0 172.5 205.0 173.0 204.9 173.5 204.9 174.0 204.8 174.5 204.7 175.0 204.6 175.5 204.4 176.0 204.3 176.5 204.1 177.0 203.9 177.5 203.7 178.0 203.5 178.5 203.2 179.0 202.8 179.5 202.3 180.0 201.7 180.5 201.2 181.0 200.8 181.5 200.5 182.0 200.2 182.5 200.0 183.0 199.8 183.5 199.6 184.0 199.4 184.5 199.3 185.0 199.1 185.5 199.0 186.0 198.9 186.5 198.8 187.0 198.7 187.5 198.6 188.0 198.5 188.5 198.5 189.0 198.4 189.5 198.3 190.0 198.2 190.5 198.1 191.0 198.0 191.5 197.9 192.0 197.7 192.5 197.5 193.0 197.2 193.5 196.9 194.0 196.6 194.5 196.3 195.0 196.0 195.5 195.6 196.0 195.3 196.5 194.9 197.0 194.6 197.5 194.3 198.0 193.9 198.5 193.6 199.0 193.2 199.5 192.9 200.0 192.5 200.5 192.1 201.0 191.7 201.5 191.4 202.0 191.0 202.5 190.7 203.0 190.4 203.5 190.1 204.0 189.8 204.5 189.4 205.0 189.1 205.5 188.8 206.0 188.5 206.5 188.2 207.0 188.0 207.5 187.8 208.0 187.8 208.5 187.9 209.0 188.2 209.5 188.6 210.0 189.1 210.5 189.6 211.0 190.2 211.5 190.7 212.0 191.1 212.5 191.4 213.0 191.5 213.5 191.3 214.0 190.9 214.5 190.3 215.0 189.5 215.5 188.6 216.0 187.6 216.5 186.6 217.0 185.6 217.5 184.7 218.0 184.0 218.5 183.3 219.0 182.7 219.5 182.1 220.0 181.4 220.5 180.8 221.0 180.2 221.5 179.6 222.0 179.0 222.5 178.4 223.0 177.8 223.5 177.3 224.0 176.7 224.5 176.1 225.0 175.6 225.5 175.1 226.0 174.5 226.5 174.0 227.0 173.5 227.5 173.0 228.0 172.5 228.5 172.0 229.0 171.5 229.5 171.1 230.0 170.6 230.5 170.1 231.0 169.7 231.5 169.2 232.0 168.8 232.5 168.3 233.0 167.9 233.5 167.5 234.0 167.0 234.5 166.6 235.0 166.2 235.5 165.8 236.0 165.3 236.5 164.9 237.0 164.5 237.5 164.1 238.0 163.7 238.5 163.3 239.0 162.9 239.5 162.5 240.0 162.1 240.5 161.6 241.0 161.2 241.5 160.8 242.0 160.4 242.5 160.0 243.0 159.6 243.5 159.2 244.0 158.8 244.5 158.4 245.0 158.0 245.5 157.6 246.0 157.2 246.5 156.8 247.0 156.4 247.5 155.9 248.0 155.5 248.5 155.1 249.0 154.7 249.5 154.3 250.0 153.9 250.5 153.5 251.0 153.1 251.5 152.7 252.0 152.2 252.5 151.8 253.0 151.4 253.5 151.0 254.0 150.6 254.5 150.2 255.0 149.7 255.5 149.3 256.0 148.9 256.5 148.5 257.0 148.1 257.5 147.6 258.0 147.2 258.5 146.8 259.0 146.4 259.5 146.0 260.0 145.5 260.5 145.1 261.0 144.7 261.5 144.3 262.0 143.9 262.5 143.4 263.0 143.0 263.5 142.6 264.0 142.2 264.5 141.7 265.0 141.3 265.5 140.9 266.0 140.5 266.5 140.1 267.0 139.6 267.5 139.2 268.0 138.8 268.5 138.4 269.0 138.0 269.5 137.5 270.0 137.1 270.5 136.7 271.0 136.3 271.5 135.9 272.0 135.4 272.5 135.0 273.0 134.6 273.5 134.2 274.0 133.8 274.5 133.4 275.0 132.9 275.5 132.5 276.0 132.1 276.5 131.7 277.0 131.3 277.5 130.9 278.0 130.5 278.5 130.1 279.0 129.7 279.5 129.2 280.0 128.8 280.5 128.4 281.0 128.0 281.5 127.6 282.0 127.2 282.5 126.8 283.0 126.4 283.5 126.0 284.0 125.6 284.5 125.2 285.0 124.8 285.5 124.4 286.0 124.0 286.5 123.6 287.0 123.2 287.5 122.8 288.0 122.4 288.5 122.0 289.0 121.7 289.5 121.3 290.0 120.9 290.5 120.5 291.0 120.1 291.5 119.7 292.0 119.4 292.5 119.0 293.0 118.6 293.5 118.2 294.0 117.8 294.5 117.5 295.0 117.1 295.5 116.7 296.0 116.4 296.5 116.0 297.0 115.6 297.5 115.3 298.0 114.9 298.5 114.5 299.0 114.2 299.5 113.8 300.0 113.4 300.5 113.1 301.0 112.7 301.5 112.4 302.0 112.0 302.5 111.7 303.0 111.3 303.5 111.0 304.0 110.6 304.5 110.3 305.0 110.0 305.5 109.6 306.0 109.3 306.5 108.9 307.0 108.6 307.5 108.3 308.0 107.9 308.5 107.6 309.0 107.3 309.5 106.9 310.0 106.6 310.5 106.3 311.0 105.9 311.5 105.6 312.0 105.3 312.5 105.0 313.0 104.6 313.5 104.3 314.0 104.0 314.5 103.7 315.0 103.4 315.5 103.1 316.0 102.8 316.5 102.4 317.0 102.1 317.5 101.8 318.0 101.5 318.5 101.2 319.0 100.9 319.5 100.6 320.0 100.3 320.5 100.0 321.0 99.7 321.5 99.4 322.0 99.1 322.5 98.8 323.0 98.5 323.5 98.2 324.0 98.0 324.5 97.7 325.0 97.4 325.5 97.1 326.0 96.8 326.5 96.5 327.0 96.2 327.5 96.0 328.0 95.7 328.5 95.4 329.0 95.1 329.5 94.9 330.0 94.6 330.5 94.3 331.0 94.0 331.5 93.8 332.0 93.5 332.5 93.2 333.0 93.0 333.5 92.7 334.0 92.4 334.5 92.2 335.0 91.9 335.5 91.7 336.0 91.4 336.5 91.2 337.0 90.9 337.5 90.7 338.0 90.4 338.5 90.2 339.0 89.9 339.5 89.7 340.0 89.4 340.5 89.2 341.0 88.9 341.5 88.7 342.0 88.4 342.5 88.2 343.0 88.0 343.5 87.7 344.0 87.5 344.5 87.3 345.0 87.0 345.5 86.8 346.0 86.6 346.5 86.3 347.0 86.1 347.5 85.9 348.0 85.7 348.5 85.4 349.0 85.2 349.5 85.0 350.0 84.8 350.5 84.6 351.0 84.4 351.5 84.1 352.0 83.9 352.5 83.7 353.0 83.5 353.5 83.3 354.0 83.1 354.5 82.9 355.0 82.7 355.5 82.5 356.0 82.3 356.5 82.1 357.0 81.9 357.5 81.7 358.0 81.5 358.5 81.3 359.0 81.1 359.5 80.9 360.0 80.7 360.5 80.5 361.0 80.3 361.5 80.1 362.0 80.0 362.5 79.8 363.0 79.6 363.5 79.4 364.0 79.2 364.5 79.0 365.0 78.9 365.5 78.7 366.0 78.5 366.5 78.3 367.0 78.2 367.5 78.0 368.0 77.8 368.5 77.6 369.0 77.5 369.5 77.3 370.0 77.2 370.5 77.0 371.0 76.8 371.5 76.7 372.0 76.5 372.5 76.3 373.0 76.2 373.5 76.0 374.0 75.9 374.5 75.7 375.0 75.6 375.5 75.4 376.0 75.3 376.5 75.1 377.0 75.0 377.5 74.8 378.0 74.7 378.5 74.5 379.0 74.4 379.5 74.3 380.0 74.1 380.5 74.0 381.0 73.8 381.5 73.7 382.0 73.6 382.5 73.4 383.0 73.3 383.5 73.2 384.0 73.1 384.5 72.9 385.0 72.8 385.5 72.7 386.0 72.5 386.5 72.4 387.0 72.3 387.5 72.2 388.0 72.1 388.5 71.9 389.0 71.8 389.5 71.7 390.0 71.6 390.5 71.5 391.0 71.4 391.5 71.3 392.0 71.2 392.5 71.1 393.0 70.9 393.5 70.8 394.0 70.7 394.5 70.6 395.0 70.5 395.5 70.4 396.0 70.3 396.5 70.2 397.0 70.1 397.5 70.0 398.0 70.0 398.5 69.9 399.0 69.8 399.5 69.7 400.0 69.6 400.5 69.5 401.0 69.4 401.5 69.3 402.0 69.3 402.5 69.2 403.0 69.1 403.5 69.0 404.0 68.9 404.5 68.9 405.0 68.8 405.5 68.7 406.0 68.6 406.5 68.6 407.0 68.5 407.5 68.4 408.0 68.3 408.5 68.3 409.0 68.2 409.5 68.1 410.0 68.1 410.5 68.0 411.0 68.0 411.5 67.9 412.0 67.8 412.5 67.8 413.0 67.7 413.5 67.7 414.0 67.6 414.5 67.6 415.0 67.5 415.5 67.5 416.0 67.4 416.5 67.4 417.0 67.3 417.5 67.3 418.0 67.2 418.5 67.2 419.0 67.1 419.5 67.1 420.0 67.1 420.5 67.0 421.0 67.0 421.5 67.0 422.0 66.9 422.5 66.9 423.0 66.9 423.5 66.8 424.0 66.8 424.5 66.8 425.0 66.7" stroke="#70ad47" stroke-width="2.1"/>
<path d="M94.0 205.0L94.5 205.0 95.0 205.0 95.5 205.0 96.0 205.0 96.5 205.0 97.0 205.0 97.5 205.0 98.0 205.0 98.5 205.0 99.0 205.0 99.5 205.0 100.0 205.0 100.5 205.0 101.0 205.0 101.5 205.0 102.0 205.0 102.5 205.0 103.0 205.0 103.5 205.0 104.0 205.0 104.5 205.0 105.0 205.0 105.5 205.0 106.0 205.0 106.5 205.0 107.0 205.0 107.5 205.0 108.0 205.0 108.5 205.0 109.0 205.0 109.5 205.0 110.0 205.0 110.5 205.0 111.0 205.0 111.5 205.0 112.0 205.0 112.5 205.0 113.0 205.0 113.5 205.0 114.0 205.0 114.5 205.0 115.0 205.0 115.5 205.0 116.0 205.0 116.5 205.0 117.0 205.0 117.5 205.0 118.0 205.0 118.5 205.0 119.0 205.0 119.5 205.0 120.0 205.0 120.5 205.0 121.0 205.0 121.5 205.0 122.0 205.0 122.5 203.8 123.0 203.1 123.5 202.4 124.0 201.9 124.5 201.5 125.0 201.1 125.5 200.7 126.0 200.5 126.5 200.3 127.0 200.1 127.5 200.0 128.0 200.0 128.5 200.0 129.0 200.1 129.5 200.3 130.0 200.4 130.5 200.7 131.0 201.0 131.5 201.4 132.0 201.8 132.5 202.3 133.0 202.9 133.5 203.5 134.0 204.4 134.5 205.0 135.0 205.0 135.5 205.0 136.0 205.0 136.5 205.0 137.0 205.0 137.5 205.0 138.0 205.0 138.5 205.0 139.0 205.0 139.5 205.0 140.0 205.0 140.5 205.0 141.0 205.0 141.5 205.0 142.0 205.0 142.5 205.0 143.0 205.0 143.5 205.0 144.0 205.0 144.5 205.0 145.0 205.0 145.5 205.0 146.0 205.0 146.5 205.0 147.0 205.0 147.5 205.0 148.0 205.0 148.5 205.0 149.0 205.0 149.5 205.0 150.0 205.0 150.5 205.0 151.0 205.0 151.5 205.0 152.0 205.0 152.5 205.0 153.0 205.0 153.5 205.0 154.0 205.0 154.5 205.0 155.0 205.0 155.5 205.0 156.0 205.0 156.5 205.0 157.0 205.0 157.5 205.0 158.0 205.0 158.5 205.0 159.0 205.0 159.5 205.0 160.0 205.0 160.5 205.0 161.0 205.0 161.5 205.0 162.0 205.0 162.5 205.0 163.0 205.0 163.5 205.0 164.0 205.0 164.5 205.0 165.0 205.0 165.5 205.0 166.0 205.0 166.5 205.0 167.0 205.0 167.5 205.0 168.0 205.0 168.5 205.0 169.0 205.0 169.5 205.0 170.0 205.0 170.5 205.0 171.0 205.0 171.5 205.0 172.0 205.0 172.5 205.0 173.0 205.0 173.5 205.0 174.0 205.0 174.5 205.0 175.0 205.0 175.5 205.0 176.0 205.0 176.5 205.0 177.0 205.0 177.5 205.0 178.0 205.0 178.5 205.0 179.0 204.9 179.5 204.9 180.0 204.9 180.5 204.8 181.0 204.8 181.5 204.8 182.0 204.7 182.5 204.7 183.0 204.6 183.5 204.4 184.0 204.0 184.5 203.5 185.0 203.0 185.5 202.5 186.0 202.0 186.5 201.7 187.0 201.3 187.5 200.9 188.0 200.6 188.5 200.2 189.0 199.8 189.5 199.4 190.0 199.0 190.5 198.5 191.0 198.0 191.5 197.5 192.0 197.0 192.5 196.5 193.0 196.0 193.5 195.6 194.0 195.3 194.5 194.9 195.0 194.6 195.5 194.4 196.0 194.1 196.5 193.8 197.0 193.6 197.5 193.4 198.0 193.1 198.5 192.9 199.0 192.6 199.5 192.4 200.0 192.2 200.5 192.0 201.0 191.8 201.5 191.6 202.0 191.4 202.5 191.2 203.0 191.0 203.5 190.8 204.0 190.5 204.5 190.3 205.0 190.0 205.5 189.7 206.0 189.3 206.5 188.8 207.0 188.3 207.5 187.7 208.0 187.2 208.5 186.6 209.0 186.0 209.5 185.5 210.0 185.0 210.5 184.5 211.0 184.1 211.5 183.7 212.0 183.3 212.5 182.8 213.0 182.4 213.5 182.0 214.0 181.6 214.5 181.2 215.0 180.8 215.5 180.4 216.0 180.0 216.5 179.6 217.0 179.1 217.5 178.7 218.0 178.3 218.5 177.8 219.0 177.4 219.5 177.0 220.0 176.6 220.5 176.1 221.0 175.7 221.5 175.4 222.0 175.0 222.5 174.7 223.0 174.3 223.5 174.0 224.0 173.7 224.5 173.4 225.0 173.1 225.5 172.8 226.0 172.6 226.5 172.3 227.0 172.0 227.5 171.7 228.0 171.4 228.5 171.1 229.0 170.8 229.5 170.5 230.0 170.2 230.5 169.9 231.0 169.5 231.5 169.2 232.0 168.8 232.5 168.5 233.0 168.1 233.5 167.7 234.0 167.4 234.5 167.0 235.0 166.6 235.5 166.2 236.0 165.8 236.5 165.4 237.0 165.1 237.5 164.7 238.0 164.3 238.5 163.9 239.0 163.5 239.5 163.1 240.0 162.7 240.5 162.3 241.0 161.9 241.5 161.5 242.0 161.1 242.5 160.7 243.0 160.3 243.5 159.9 244.0 159.5 244.5 159.1 245.0 158.7 245.5 158.3 246.0 157.9 246.5 157.5 247.0 157.1 247.5 156.7 248.0 156.2 248.5 155.8 249.0 155.4 249.5 155.0 250.0 154.6 250.5 154.2 251.0 153.8 251.5 153.4 252.0 152.9 252.5 152.5 253.0 152.1 253.5 151.7 254.0 151.3 254.5 150.9 255.0 150.4 255.5 150.0 256.0 149.6 256.5 149.2 257.0 148.8 257.5 148.3 258.0 147.9 258.5 147.5 259.0 147.1 259.5 146.7 260.0 146.2 260.5 145.8 261.0 145.4 261.5 145.0 262.0 144.6 262.5 144.1 263.0 143.7 263.5 143.3 264.0 142.9 264.5 142.4 265.0 142.0 265.5 141.6 266.0 141.2 266.5 140.8 267.0 140.3 267.5 139.9 268.0 139.5 268.5 139.1 269.0 138.7 269.5 138.2 270.0 137.8 270.5 137.4 271.0 137.0 271.5 136.6 272.0 136.1 272.5 135.7 273.0 135.3 273.5 134.9 274.0 134.5 274.5 134.1 275.0 133.6 275.5 133.2 276.0 132.8 276.5 132.4 277.0 132.0 277.5 131.6 278.0 131.2 278.5 130.8 279.0 130.4 279.5 129.9 280.0 129.5 280.5 129.1 281.0 128.7 281.5 128.3 282.0 127.9 282.5 127.5 283.0 127.1 283.5 126.7 284.0 126.3 284.5 125.9 285.0 125.5 285.5 125.1 286.0 124.7 286.5 124.4 287.0 124.0 287.5 123.6 288.0 123.2 288.5 122.8 289.0 122.5 289.5 122.1 290.0 121.7 290.5 121.3 291.0 121.0 291.5 120.6 292.0 120.2 292.5 119.8 293.0 119.5 293.5 119.1 294.0 118.8 294.5 118.4 295.0 118.0 295.5 117.7 296.0 117.3 296.5 117.0 297.0 116.6 297.5 116.2 298.0 115.9 298.5 115.5 299.0 115.2 299.5 114.9 300.0 114.5 300.5 114.2 301.0 113.8 301.5 113.5 302.0 113.1 302.5 112.8 303.0 112.5 303.5 112.1 304.0 111.8 304.5 111.5 305.0 111.1 305.5 110.8 306.0 110.5 306.5 110.1 307.0 109.8 307.5 109.5 308.0 109.2 308.5 108.8 309.0 108.5 309.5 108.2 310.0 107.9 310.5 107.6 311.0 107.3 311.5 106.9 312.0 106.6 312.5 106.3 313.0 106.0 313.5 105.7 314.0 105.4 314.5 105.1 315.0 104.8 315.5 104.5 316.0 104.2 316.5 103.9 317.0 103.6 317.5 103.3 318.0 103.0 318.5 102.7 319.0 102.4 319.5 102.1 320.0 101.8 320.5 101.5 321.0 101.3 321.5 101.0 322.0 100.7 322.5 100.4 323.0 100.1 323.5 99.9 324.0 99.6 324.5 99.3 325.0 99.0 325.5 98.7 326.0 98.5 326.5 98.2 327.0 97.9 327.5 97.7 328.0 97.4 328.5 97.1 329.0 96.9 329.5 96.6 330.0 96.3 330.5 96.1 331.0 95.8 331.5 95.6 332.0 95.3 332.5 95.1 333.0 94.8 333.5 94.6 334.0 94.3 334.5 94.1 335.0 93.8 335.5 93.6 336.0 93.3 336.5 93.1 337.0 92.8 337.5 92.6 338.0 92.4 338.5 92.1 339.0 91.9 339.5 91.6 340.0 91.4 340.5 91.2 341.0 90.9 341.5 90.7 342.0 90.4 342.5 90.2 343.0 90.0 343.5 89.7 344.0 89.5 344.5 89.3 345.0 89.0 345.5 88.8 346.0 88.6 346.5 88.3 347.0 88.1 347.5 87.9 348.0 87.7 348.5 87.4 349.0 87.2 349.5 87.0 350.0 86.8 350.5 86.6 351.0 86.4 351.5 86.1 352.0 85.9 352.5 85.7 353.0 85.5 353.5 85.3 354.0 85.1 354.5 84.9 355.0 84.7 355.5 84.5 356.0 84.3 356.5 84.1 357.0 83.9 357.5 83.7 358.0 83.5 358.5 83.3 359.0 83.1 359.5 82.9 360.0 82.7 360.5 82.5 361.0 82.3 361.5 82.1 362.0 82.0 362.5 81.8 363.0 81.6 363.5 81.4 364.0 81.2 364.5 81.0 365.0 80.9 365.5 80.7 366.0 80.5 366.5 80.3 367.0 80.2 367.5 80.0 368.0 79.8 368.5 79.6 369.0 79.5 369.5 79.3 370.0 79.2 370.5 79.0 371.0 78.8 371.5 78.7 372.0 78.5 372.5 78.3 373.0 78.2 373.5 78.0 374.0 77.9 374.5 77.7 375.0 77.6 375.5 77.4 376.0 77.3 376.5 77.1 377.0 77.0 377.5 76.8 378.0 76.7 378.5 76.5 379.0 76.4 379.5 76.3 380.0 76.1 380.5 76.0 381.0 75.8 381.5 75.7 382.0 75.6 382.5 75.4 383.0 75.3 383.5 75.2 384.0 75.1 384.5 74.9 385.0 74.8 385.5 74.7 386.0 74.5 386.5 74.4 387.0 74.3 387.5 74.2 388.0 74.1 388.5 73.9 389.0 73.8 389.5 73.7 390.0 73.6 390.5 73.5 391.0 73.4 391.5 73.3 392.0 73.2 392.5 73.1 393.0 72.9 393.5 72.8 394.0 72.7 394.5 72.6 395.0 72.5 395.5 72.4 396.0 72.3 396.5 72.2 397.0 72.1 397.5 72.0 398.0 72.0 398.5 71.9 399.0 71.8 399.5 71.7 400.0 71.6 400.5 71.5 401.0 71.4 401.5 71.3 402.0 71.3 402.5 71.2 403.0 71.1 403.5 71.0 404.0 70.9 404.5 70.9 405.0 70.8 405.5 70.7 406.0 70.6 406.5 70.6 407.0 70.5 407.5 70.4 408.0 70.3 408.5 70.3 409.0 70.2 409.5 70.1 410.0 70.1 410.5 70.0 411.0 70.0 411.5 69.9 412.0 69.8 412.5 69.8 413.0 69.7 413.5 69.7 414.0 69.6 414.5 69.6 415.0 69.5 415.5 69.5 416.0 69.4 416.5 69.4 417.0 69.3 417.5 69.3 418.0 69.2 418.5 69.2 419.0 69.1 419.5 69.1 420.0 69.1 420.5 69.0 421.0 69.0 421.5 69.0 422.0 68.9 422.5 68.9 423.0 68.9 423.5 68.8 424.0 68.8 424.5 68.8 425.0 68.7" stroke="#264478" stroke-width="2.1"/>
<path d="M94.0 205.0L94.5 205.0 95.0 205.0 95.5 205.0 96.0 205.0 96.5 205.0 97.0 205.0 97.5 205.0 98.0 205.0 98.5 205.0 99.0 205.0 99.5 205.0 100.0 205.0 100.5 205.0 101.0 205.0 101.5 205.0 102.0 205.0 102.5 205.0 103.0 205.0 103.5 205.0 104.0 205.0 104.5 205.0 105.0 205.0 105.5 205.0 106.0 205.0 106.5 205.0 107.0 205.0 107.5 205.0 108.0 205.0 108.5 205.0 109.0 205.0 109.5 205.0 110.0 205.0 110.5 205.0 111.0 205.0 111.5 205.0 112.0 205.0 112.5 205.0 113.0 205.0 113.5 205.0 114.0 205.0 114.5 205.0 115.0 205.0 115.5 205.0 116.0 205.0 116.5 205.0 117.0 205.0 117.5 205.0 118.0 205.0 118.5 205.0 119.0 205.0 119.5 205.0 120.0 205.0 120.5 205.0 121.0 205.0 121.5 205.0 122.0 205.0 122.5 205.0 123.0 205.0 123.5 205.0 124.0 205.0 124.5 205.0 125.0 205.0 125.5 205.0 126.0 205.0 126.5 205.0 127.0 205.0 127.5 205.0 128.0 205.0 128.5 205.0 129.0 205.0 129.5 205.0 130.0 205.0 130.5 205.0 131.0 205.0 131.5 205.0 132.0 205.0 132.5 205.0 133.0 205.0 133.5 205.0 134.0 205.0 134.5 205.0 135.0 205.0 135.5 205.0 136.0 205.0 136.5 205.0 137.0 205.0 137.5 205.0 138.0 205.0 138.5 205.0 139.0 205.0 139.5 205.0 140.0 205.0 140.5 205.0 141.0 205.0 141.5 205.0 142.0 205.0 142.5 205.0 143.0 205.0 143.5 205.0 144.0 205.0 144.5 205.0 145.0 205.0 145.5 205.0 146.0 205.0 146.5 205.0 147.0 205.0 147.5 205.0 148.0 205.0 148.5 205.0 149.0 205.0 149.5 205.0 150.0 205.0 150.5 205.0 151.0 205.0 151.5 205.0 152.0 205.0 152.5 205.0 153.0 205.0 153.5 205.0 154.0 205.0 154.5 205.0 155.0 205.0 155.5 205.0 156.0 205.0 156.5 205.0 157.0 205.0 157.5 205.0 158.0 205.0 158.5 205.0 159.0 205.0 159.5 205.0 160.0 205.0 160.5 205.0 161.0 205.0 161.5 205.0 162.0 205.0 162.5 205.0 163.0 205.0 163.5 205.0 164.0 205.0 164.5 205.0 165.0 205.0 165.5 205.0 166.0 205.0 166.5 205.0 167.0 205.0 167.5 205.0 168.0 205.0 168.5 205.0 169.0 205.0 169.5 205.0 170.0 205.0 170.5 205.0 171.0 205.0 171.5 205.0 172.0 205.0 172.5 205.0 173.0 205.0 173.5 205.0 174.0 205.0 174.5 205.0 175.0 205.0 175.5 205.0 176.0 205.0 176.5 205.0 177.0 205.0 177.5 205.0 178.0 205.0 178.5 205.0 179.0 205.0 179.5 205.0 180.0 205.0 180.5 205.0 181.0 205.0 181.5 205.0 182.0 205.0 182.5 205.0 183.0 205.0 183.5 205.0 184.0 205.0 184.5 205.0 185.0 205.0 185.5 205.0 186.0 205.0 186.5 205.0 187.0 205.0 187.5 205.0 188.0 205.0 188.5 205.0 189.0 205.0 189.5 205.0 190.0 205.0 190.5 204.8 191.0 204.5 191.5 204.3 192.0 204.0 192.5 203.8 193.0 203.5 193.5 203.2 194.0 202.9 194.5 202.6 195.0 202.3 195.5 202.0 196.0 201.7 196.5 201.4 197.0 201.1 197.5 200.7 198.0 200.4 198.5 200.1 199.0 199.7 199.5 199.4 200.0 199.0 200.5 198.6 201.0 198.2 201.5 197.9 202.0 197.4 202.5 197.0 203.0 196.6 203.5 196.2 204.0 195.7 204.5 195.2 205.0 194.8 205.5 194.3 206.0 193.8 206.5 193.3 207.0 192.9 207.5 192.4 208.0 191.9 208.5 191.4 209.0 190.9 209.5 190.4 210.0 189.9 210.5 189.4 211.0 189.0 211.5 188.5 212.0 188.0 212.5 187.5 213.0 187.1 213.5 186.6 214.0 186.1 214.5 185.6 215.0 185.1 215.5 184.6 216.0 184.1 216.5 183.6 217.0 183.1 217.5 182.6 218.0 182.1 218.5 181.6 219.0 181.1 219.5 180.6 220.0 180.1 220.5 179.6 221.0 179.1 221.5 178.6 222.0 178.1 222.5 177.6 223.0 177.2 223.5 176.7 224.0 176.2 224.5 175.7 225.0 175.2 225.5 174.7 226.0 174.3 226.5 173.8 227.0 173.3 227.5 172.9 228.0 172.4 228.5 171.9 229.0 171.5 229.5 171.1 230.0 170.6 230.5 170.2 231.0 169.8 231.5 169.3 232.0 168.9 232.5 168.5 233.0 168.1 233.5 167.7 234.0 167.3 234.5 166.9 235.0 166.4 235.5 166.0 236.0 165.6 236.5 165.2 237.0 164.8 237.5 164.4 238.0 164.0 238.5 163.6 239.0 163.2 239.5 162.8 240.0 162.4 240.5 162.0 241.0 161.6 241.5 161.2 242.0 160.8 242.5 160.4 243.0 160.0 243.5 159.6 244.0 159.2 244.5 158.8 245.0 158.4 245.5 158.0 246.0 157.6 246.5 157.2 247.0 156.8 247.5 156.4 248.0 156.0 248.5 155.6 249.0 155.1 249.5 154.7 250.0 154.3 250.5 153.9 251.0 153.5 251.5 153.1 252.0 152.7 252.5 152.2 253.0 151.8 253.5 151.4 254.0 151.0 254.5 150.6 255.0 150.2 255.5 149.7 256.0 149.3 256.5 148.9 257.0 148.5 257.5 148.1 258.0 147.6 258.5 147.2 259.0 146.8 259.5 146.4 260.0 146.0 260.5 145.5 261.0 145.1 261.5 144.7 262.0 144.3 262.5 143.9 263.0 143.4 263.5 143.0 264.0 142.6 264.5 142.2 265.0 141.7 265.5 141.3 266.0 140.9 266.5 140.5 267.0 140.1 267.5 139.6 268.0 139.2 268.5 138.8 269.0 138.4 269.5 138.0 270.0 137.5 270.5 137.1 271.0 136.7 271.5 136.3 272.0 135.9 272.5 135.5 273.0 135.0 273.5 134.6 274.0 134.2 274.5 133.8 275.0 133.4 275.5 133.0 276.0 132.5 276.5 132.1 277.0 131.7 277.5 131.3 278.0 130.9 278.5 130.5 279.0 130.1 279.5 129.7 280.0 129.3 280.5 128.8 281.0 128.4 281.5 128.0 282.0 127.6 282.5 127.2 283.0 126.8 283.5 126.4 284.0 126.0 284.5 125.6 285.0 125.2 285.5 124.8 286.0 124.4 286.5 124.1 287.0 123.7 287.5 123.3 288.0 122.9 288.5 122.5 289.0 122.1 289.5 121.8 290.0 121.4 290.5 121.0 291.0 120.6 291.5 120.2 292.0 119.9 292.5 119.5 293.0 119.1 293.5 118.8 294.0 118.4 294.5 118.0 295.0 117.7 295.5 117.3 296.0 116.9 296.5 116.6 297.0 116.2 297.5 115.9 298.0 115.5 298.5 115.1 299.0 114.8 299.5 114.4 300.0 114.1 300.5 113.7 301.0 113.4 301.5 113.0 302.0 112.7 302.5 112.4 303.0 112.0 303.5 111.7 304.0 111.3 304.5 111.0 305.0 110.7 305.5 110.3 306.0 110.0 306.5 109.7 307.0 109.3 307.5 109.0 308.0 108.7 308.5 108.3 309.0 108.0 309.5 107.7 310.0 107.4 310.5 107.0 311.0 106.7 311.5 106.4 312.0 106.1 312.5 105.8 313.0 105.5 313.5 105.2 314.0 104.8 314.5 104.5 315.0 104.2 315.5 103.9 316.0 103.6 316.5 103.3 317.0 103.0 317.5 102.7 318.0 102.4 318.5 102.1 319.0 101.8 319.5 101.5 320.0 101.2 320.5 100.9 321.0 100.6 321.5 100.4 322.0 100.1 322.5 99.8 323.0 99.5 323.5 99.2 324.0 98.9 324.5 98.6 325.0 98.4 325.5 98.1 326.0 97.8 326.5 97.5 327.0 97.3 327.5 97.0 328.0 96.7 328.5 96.4 329.0 96.2 329.5 95.9 330.0 95.6 330.5 95.4 331.0 95.1 331.5 94.9 332.0 94.6 332.5 94.3 333.0 94.1 333.5 93.8 334.0 93.6 334.5 93.3 335.0 93.1 335.5 92.8 336.0 92.6 336.5 92.3 337.0 92.1 337.5 91.8 338.0 91.6 338.5 91.3 339.0 91.1 339.5 90.8 340.0 90.6 340.5 90.4 341.0 90.1 341.5 89.9 342.0 89.6 342.5 89.4 343.0 89.2 343.5 88.9 344.0 88.7 344.5 88.5 345.0 88.2 345.5 88.0 346.0 87.8 346.5 87.5 347.0 87.3 347.5 87.1 348.0 86.9 348.5 86.6 349.0 86.4 349.5 86.2 350.0 86.0 350.5 85.8 351.0 85.6 351.5 85.3 352.0 85.1 352.5 84.9 353.0 84.7 353.5 84.5 354.0 84.3 354.5 84.1 355.0 83.9 355.5 83.7 356.0 83.5 356.5 83.3 357.0 83.1 357.5 82.9 358.0 82.7 358.5 82.5 359.0 82.3 359.5 82.1 360.0 81.9 360.5 81.7 361.0 81.5 361.5 81.3 362.0 81.2 362.5 81.0 363.0 80.8 363.5 80.6 364.0 80.4 364.5 80.2 365.0 80.1 365.5 79.9 366.0 79.7 366.5 79.5 367.0 79.4 367.5 79.2 368.0 79.0 368.5 78.8 369.0 78.7 369.5 78.5 370.0 78.4 370.5 78.2 371.0 78.0 371.5 77.9 372.0 77.7 372.5 77.5 373.0 77.4 373.5 77.2 374.0 77.1 374.5 76.9 375.0 76.8 375.5 76.6 376.0 76.5 376.5 76.3 377.0 76.2 377.5 76.0 378.0 75.9 378.5 75.7 379.0 75.6 379.5 75.5 380.0 75.3 380.5 75.2 381.0 75.0 381.5 74.9 382.0 74.8 382.5 74.6 383.0 74.5 383.5 74.4 384.0 74.3 384.5 74.1 385.0 74.0 385.5 73.9 386.0 73.7 386.5 73.6 387.0 73.5 387.5 73.4 388.0 73.3 388.5 73.1 389.0 73.0 389.5 72.9 390.0 72.8 390.5 72.7 391.0 72.6 391.5 72.5 392.0 72.4 392.5 72.3 393.0 72.1 393.5 72.0 394.0 71.9 394.5 71.8 395.0 71.7 395.5 71.6 396.0 71.5 396.5 71.4 397.0 71.3 397.5 71.2 398.0 71.2 398.5 71.1 399.0 71.0 399.5 70.9 400.0 70.8 400.5 70.7 401.0 70.6 401.5 70.5 402.0 70.5 402.5 70.4 403.0 70.3 403.5 70.2 404.0 70.1 404.5 70.1 405.0 70.0 405.5 69.9 406.0 69.8 406.5 69.8 407.0 69.7 407.5 69.6 408.0 69.5 408.5 69.5 409.0 69.4 409.5 69.3 410.0 69.3 410.5 69.2 411.0 69.2 411.5 69.1 412.0 69.0 412.5 69.0 413.0 68.9 413.5 68.9 414.0 68.8 414.5 68.8 415.0 68.7 415.5 68.7 416.0 68.6 416.5 68.6 417.0 68.5 417.5 68.5 418.0 68.4 418.5 68.4 419.0 68.3 419.5 68.3 420.0 68.3 420.5 68.2 421.0 68.2 421.5 68.2 422.0 68.1 422.5 68.1 423.0 68.1 423.5 68.0 424.0 68.0 424.5 68.0 425.0 67.9" stroke="#b08a14" stroke-width="2.0"/>
<path d="M94.0 205.0L94.5 205.0 95.0 205.0 95.5 205.0 96.0 205.0 96.5 205.0 97.0 205.0 97.5 205.0 98.0 205.0 98.5 205.0 99.0 205.0 99.5 205.0 100.0 205.0 100.5 205.0 101.0 205.0 101.5 205.0 102.0 205.0 102.5 205.0 103.0 205.0 103.5 205.0 104.0 205.0 104.5 205.0 105.0 205.0 105.5 205.0 106.0 205.0 106.5 205.0 107.0 205.0 107.5 205.0 108.0 205.0 108.5 205.0 109.0 205.0 109.5 205.0 110.0 205.0 110.5 205.0 111.0 205.0 111.5 205.0 112.0 205.0 112.5 205.0 113.0 205.0 113.5 205.0 114.0 205.0 114.5 205.0 115.0 205.0 115.5 205.0 116.0 205.0 116.5 205.0 117.0 205.0 117.5 205.0 118.0 205.0 118.5 205.0 119.0 205.0 119.5 205.0 120.0 205.0 120.5 205.0 121.0 205.0 121.5 205.0 122.0 205.0 122.5 205.0 123.0 205.0 123.5 205.0 124.0 205.0 124.5 205.0 125.0 205.0 125.5 205.0 126.0 205.0 126.5 205.0 127.0 205.0 127.5 205.0 128.0 205.0 128.5 205.0 129.0 205.0 129.5 205.0 130.0 205.0 130.5 205.0 131.0 205.0 131.5 205.0 132.0 205.0 132.5 205.0 133.0 205.0 133.5 205.0 134.0 205.0 134.5 205.0 135.0 205.0 135.5 205.0 136.0 205.0 136.5 205.0 137.0 205.0 137.5 205.0 138.0 205.0 138.5 205.0 139.0 205.0 139.5 205.0 140.0 205.0 140.5 205.0 141.0 205.0 141.5 205.0 142.0 205.0 142.5 205.0 143.0 205.0 143.5 205.0 144.0 205.0 144.5 205.0 145.0 205.0 145.5 205.0 146.0 205.0 146.5 205.0 147.0 205.0 147.5 205.0 148.0 205.0 148.5 205.0 149.0 205.0 149.5 205.0 150.0 205.0 150.5 205.0 151.0 205.0 151.5 205.0 152.0 205.0 152.5 205.0 153.0 205.0 153.5 205.0 154.0 205.0 154.5 205.0 155.0 205.0 155.5 205.0 156.0 205.0 156.5 205.0 157.0 205.0 157.5 205.0 158.0 205.0 158.5 205.0 159.0 205.0 159.5 205.0 160.0 205.0 160.5 205.0 161.0 205.0 161.5 205.0 162.0 205.0 162.5 205.0 163.0 205.0 163.5 205.0 164.0 205.0 164.5 205.0 165.0 205.0 165.5 205.0 166.0 205.0 166.5 205.0 167.0 205.0 167.5 205.0 168.0 205.0 168.5 205.0 169.0 205.0 169.5 205.0 170.0 205.0 170.5 205.0 171.0 205.0 171.5 205.0 172.0 205.0 172.5 205.0 173.0 205.0 173.5 205.0 174.0 205.0 174.5 205.0 175.0 205.0 175.5 205.0 176.0 205.0 176.5 205.0 177.0 205.0 177.5 205.0 178.0 205.0 178.5 205.0 179.0 205.0 179.5 205.0 180.0 205.0 180.5 205.0 181.0 205.0 181.5 205.0 182.0 205.0 182.5 205.0 183.0 205.0 183.5 205.0 184.0 204.2 184.5 202.4 185.0 200.7 185.5 199.0 186.0 197.3 186.5 195.4 187.0 193.5 187.5 192.1 188.0 191.2 188.5 191.0 189.0 191.1 189.5 191.2 190.0 191.3 190.5 191.5 191.0 191.9 191.5 192.8 192.0 193.9 192.5 195.2 193.0 196.4 193.5 197.5 194.0 198.2 194.5 198.5 195.0 198.5 195.5 198.4 196.0 198.3 196.5 198.2 197.0 198.0 197.5 197.6 198.0 197.0 198.5 196.1 199.0 195.2 199.5 194.3 200.0 193.5 200.5 192.8 201.0 192.1 201.5 191.5 202.0 190.8 202.5 190.2 203.0 189.6 203.5 189.0 204.0 188.5 204.5 188.0 205.0 187.4 205.5 186.8 206.0 186.3 206.5 185.9 207.0 185.6 207.5 185.5 208.0 185.7 208.5 186.1 209.0 186.8 209.5 187.4 210.0 187.8 210.5 188.0 211.0 187.6 211.5 186.4 212.0 184.9 212.5 183.1 213.0 181.6 213.5 180.4 214.0 180.0 214.5 180.1 215.0 180.5 215.5 181.0 216.0 181.5 216.5 182.0 217.0 182.4 217.5 182.5 218.0 182.3 218.5 181.8 219.0 181.0 219.5 180.0 220.0 179.0 220.5 177.9 221.0 176.9 221.5 176.1 222.0 175.5 222.5 175.1 223.0 174.7 223.5 174.4 224.0 174.1 224.5 173.8 225.0 173.5 225.5 173.3 226.0 173.1 226.5 172.8 227.0 172.6 227.5 172.4 228.0 172.1 228.5 171.9 229.0 171.6 229.5 171.3 230.0 171.0 230.5 170.7 231.0 170.3 231.5 169.9 232.0 169.5 232.5 169.1 233.0 168.7 233.5 168.3 234.0 167.8 234.5 167.4 235.0 166.9 235.5 166.4 236.0 166.0 236.5 165.5 237.0 165.0 237.5 164.6 238.0 164.1 238.5 163.6 239.0 163.1 239.5 162.7 240.0 162.2 240.5 161.8 241.0 161.3 241.5 160.9 242.0 160.5 242.5 160.1 243.0 159.6 243.5 159.2 244.0 158.8 244.5 158.4 245.0 158.0 245.5 157.6 246.0 157.2 246.5 156.8 247.0 156.4 247.5 156.0 248.0 155.6 248.5 155.2 249.0 154.8 249.5 154.4 250.0 154.0 250.5 153.6 251.0 153.1 251.5 152.7 252.0 152.3 252.5 151.9 253.0 151.5 253.5 151.1 254.0 150.6 254.5 150.2 255.0 149.8 255.5 149.4 256.0 149.0 256.5 148.6 257.0 148.1 257.5 147.7 258.0 147.3 258.5 146.9 259.0 146.5 259.5 146.0 260.0 145.6 260.5 145.2 261.0 144.8 261.5 144.3 262.0 143.9 262.5 143.5 263.0 143.1 263.5 142.7 264.0 142.2 264.5 141.8 265.0 141.4 265.5 141.0 266.0 140.6 266.5 140.1 267.0 139.7 267.5 139.3 268.0 138.9 268.5 138.5 269.0 138.0 269.5 137.6 270.0 137.2 270.5 136.8 271.0 136.4 271.5 135.9 272.0 135.5 272.5 135.1 273.0 134.7 273.5 134.3 274.0 133.9 274.5 133.4 275.0 133.0 275.5 132.6 276.0 132.2 276.5 131.8 277.0 131.4 277.5 131.0 278.0 130.5 278.5 130.1 279.0 129.7 279.5 129.3 280.0 128.9 280.5 128.5 281.0 128.1 281.5 127.7 282.0 127.3 282.5 126.9 283.0 126.5 283.5 126.1 284.0 125.7 284.5 125.3 285.0 124.9 285.5 124.5 286.0 124.1 286.5 123.7 287.0 123.3 287.5 122.9 288.0 122.5 288.5 122.1 289.0 121.7 289.5 121.3 290.0 121.0 290.5 120.6 291.0 120.2 291.5 119.8 292.0 119.4 292.5 119.1 293.0 118.7 293.5 118.3 294.0 117.9 294.5 117.6 295.0 117.2 295.5 116.8 296.0 116.4 296.5 116.1 297.0 115.7 297.5 115.4 298.0 115.0 298.5 114.6 299.0 114.3 299.5 113.9 300.0 113.6 300.5 113.2 301.0 112.8 301.5 112.5 302.0 112.1 302.5 111.8 303.0 111.4 303.5 111.1 304.0 110.8 304.5 110.4 305.0 110.1 305.5 109.7 306.0 109.4 306.5 109.0 307.0 108.7 307.5 108.4 308.0 108.0 308.5 107.7 309.0 107.4 309.5 107.1 310.0 106.7 310.5 106.4 311.0 106.1 311.5 105.7 312.0 105.4 312.5 105.1 313.0 104.8 313.5 104.5 314.0 104.2 314.5 103.8 315.0 103.5 315.5 103.2 316.0 102.9 316.5 102.6 317.0 102.3 317.5 102.0 318.0 101.7 318.5 101.4 319.0 101.1 319.5 100.8 320.0 100.5 320.5 100.2 321.0 99.9 321.5 99.6 322.0 99.3 322.5 99.0 323.0 98.7 323.5 98.4 324.0 98.1 324.5 97.8 325.0 97.5 325.5 97.3 326.0 97.0 326.5 96.7 327.0 96.4 327.5 96.1 328.0 95.9 328.5 95.6 329.0 95.3 329.5 95.0 330.0 94.8 330.5 94.5 331.0 94.2 331.5 94.0 332.0 93.7 332.5 93.4 333.0 93.2 333.5 92.9 334.0 92.6 334.5 92.4 335.0 92.1 335.5 91.9 336.0 91.6 336.5 91.4 337.0 91.1 337.5 90.8 338.0 90.6 338.5 90.4 339.0 90.1 339.5 89.9 340.0 89.6 340.5 89.4 341.0 89.1 341.5 88.9 342.0 88.6 342.5 88.4 343.0 88.2 343.5 87.9 344.0 87.7 344.5 87.5 345.0 87.2 345.5 87.0 346.0 86.8 346.5 86.5 347.0 86.3 347.5 86.1 348.0 85.9 348.5 85.6 349.0 85.4 349.5 85.2 350.0 85.0 350.5 84.8 351.0 84.6 351.5 84.3 352.0 84.1 352.5 83.9 353.0 83.7 353.5 83.5 354.0 83.3 354.5 83.1 355.0 82.9 355.5 82.7 356.0 82.5 356.5 82.3 357.0 82.1 357.5 81.9 358.0 81.7 358.5 81.5 359.0 81.3 359.5 81.1 360.0 80.9 360.5 80.7 361.0 80.5 361.5 80.3 362.0 80.2 362.5 80.0 363.0 79.8 363.5 79.6 364.0 79.4 364.5 79.2 365.0 79.1 365.5 78.9 366.0 78.7 366.5 78.5 367.0 78.4 367.5 78.2 368.0 78.0 368.5 77.8 369.0 77.7 369.5 77.5 370.0 77.4 370.5 77.2 371.0 77.0 371.5 76.9 372.0 76.7 372.5 76.5 373.0 76.4 373.5 76.2 374.0 76.1 374.5 75.9 375.0 75.8 375.5 75.6 376.0 75.5 376.5 75.3 377.0 75.2 377.5 75.0 378.0 74.9 378.5 74.7 379.0 74.6 379.5 74.5 380.0 74.3 380.5 74.2 381.0 74.0 381.5 73.9 382.0 73.8 382.5 73.6 383.0 73.5 383.5 73.4 384.0 73.3 384.5 73.1 385.0 73.0 385.5 72.9 386.0 72.7 386.5 72.6 387.0 72.5 387.5 72.4 388.0 72.3 388.5 72.1 389.0 72.0 389.5 71.9 390.0 71.8 390.5 71.7 391.0 71.6 391.5 71.5 392.0 71.4 392.5 71.3 393.0 71.1 393.5 71.0 394.0 70.9 394.5 70.8 395.0 70.7 395.5 70.6 396.0 70.5 396.5 70.4 397.0 70.3 397.5 70.2 398.0 70.2 398.5 70.1 399.0 70.0 399.5 69.9 400.0 69.8 400.5 69.7 401.0 69.6 401.5 69.5 402.0 69.5 402.5 69.4 403.0 69.3 403.5 69.2 404.0 69.1 404.5 69.1 405.0 69.0 405.5 68.9 406.0 68.8 406.5 68.8 407.0 68.7 407.5 68.6 408.0 68.5 408.5 68.5 409.0 68.4 409.5 68.3 410.0 68.3 410.5 68.2 411.0 68.2 411.5 68.1 412.0 68.0 412.5 68.0 413.0 67.9 413.5 67.9 414.0 67.8 414.5 67.8 415.0 67.7 415.5 67.7 416.0 67.6 416.5 67.6 417.0 67.5 417.5 67.5 418.0 67.4 418.5 67.4 419.0 67.3 419.5 67.3 420.0 67.3 420.5 67.2 421.0 67.2 421.5 67.2 422.0 67.1 422.5 67.1 423.0 67.1 423.5 67.0 424.0 67.0 424.5 67.0 425.0 66.9" stroke="#4f5560" stroke-width="2.2"/>
<path d="M94.0 203.4L94.5 202.5 95.0 201.7 95.5 201.0 96.0 200.3 96.5 199.8 97.0 199.3 97.5 198.8 98.0 198.4 98.5 198.1 99.0 197.9 99.5 197.7 100.0 197.5 100.5 197.4 101.0 197.4 101.5 197.5 102.0 197.9 102.5 198.4 103.0 199.2 103.5 200.2 104.0 201.5 104.5 203.2 105.0 205.0 105.5 205.0 106.0 205.0 106.5 205.0 107.0 205.0 107.5 205.0 108.0 205.0 108.5 205.0 109.0 205.0 109.5 205.0 110.0 205.0 110.5 205.0 111.0 205.0 111.5 205.0 112.0 205.0 112.5 205.0 113.0 205.0 113.5 205.0 114.0 205.0 114.5 205.0 115.0 205.0 115.5 205.0 116.0 205.0 116.5 205.0 117.0 205.0 117.5 205.0 118.0 205.0 118.5 205.0 119.0 205.0 119.5 205.0 120.0 205.0 120.5 205.0 121.0 205.0 121.5 205.0 122.0 205.0 122.5 205.0 123.0 205.0 123.5 205.0 124.0 205.0 124.5 205.0 125.0 205.0 125.5 205.0 126.0 205.0 126.5 205.0 127.0 205.0 127.5 205.0 128.0 205.0 128.5 205.0 129.0 205.0 129.5 205.0 130.0 205.0 130.5 205.0 131.0 205.0 131.5 205.0 132.0 205.0 132.5 205.0 133.0 205.0 133.5 205.0 134.0 205.0 134.5 205.0 135.0 205.0 135.5 205.0 136.0 205.0 136.5 205.0 137.0 205.0 137.5 205.0 138.0 205.0 138.5 205.0 139.0 205.0 139.5 205.0 140.0 205.0 140.5 205.0 141.0 205.0 141.5 205.0 142.0 205.0 142.5 205.0 143.0 205.0 143.5 205.0 144.0 205.0 144.5 205.0 145.0 205.0 145.5 205.0 146.0 205.0 146.5 205.0 147.0 205.0 147.5 205.0 148.0 205.0 148.5 205.0 149.0 205.0 149.5 205.0 150.0 205.0 150.5 205.0 151.0 205.0 151.5 205.0 152.0 205.0 152.5 205.0 153.0 205.0 153.5 205.0 154.0 205.0 154.5 205.0 155.0 205.0 155.5 205.0 156.0 205.0 156.5 205.0 157.0 205.0 157.5 205.0 158.0 205.0 158.5 205.0 159.0 205.0 159.5 205.0 160.0 205.0 160.5 205.0 161.0 205.0 161.5 205.0 162.0 205.0 162.5 205.0 163.0 205.0 163.5 205.0 164.0 205.0 164.5 205.0 165.0 205.0 165.5 205.0 166.0 205.0 166.5 205.0 167.0 205.0 167.5 205.0 168.0 205.0 168.5 205.0 169.0 205.0 169.5 205.0 170.0 205.0 170.5 205.0 171.0 205.0 171.5 205.0 172.0 205.0 172.5 205.0 173.0 205.0 173.5 205.0 174.0 205.0 174.5 205.0 175.0 205.0 175.5 205.0 176.0 205.0 176.5 205.0 177.0 205.0 177.5 205.0 178.0 205.0 178.5 205.0 179.0 205.0 179.5 205.0 180.0 205.0 180.5 205.0 181.0 205.0 181.5 205.0 182.0 205.0 182.5 205.0 183.0 205.0 183.5 205.0 184.0 205.0 184.5 205.0 185.0 205.0 185.5 205.0 186.0 205.0 186.5 205.0 187.0 205.0 187.5 205.0 188.0 205.0 188.5 205.0 189.0 205.0 189.5 205.0 190.0 205.0 190.5 205.0 191.0 205.0 191.5 205.0 192.0 205.0 192.5 205.0 193.0 205.0 193.5 205.0 194.0 205.0 194.5 205.0 195.0 205.0 195.5 205.0 196.0 205.0 196.5 205.0 197.0 205.0 197.5 205.0 198.0 205.0 198.5 204.8 199.0 204.3 199.5 203.9 200.0 203.4 200.5 202.9 201.0 202.5 201.5 202.0 202.0 201.5 202.5 201.1 203.0 200.6 203.5 200.1 204.0 199.7 204.5 199.2 205.0 198.7 205.5 198.3 206.0 197.8 206.5 197.3 207.0 196.9 207.5 196.4 208.0 195.9 208.5 195.5 209.0 195.0 209.5 194.5 210.0 194.1 210.5 193.6 211.0 193.1 211.5 192.7 212.0 192.2 212.5 191.7 213.0 191.3 213.5 190.8 214.0 190.3 214.5 189.8 215.0 189.4 215.5 188.9 216.0 188.4 216.5 188.0 217.0 187.5 217.5 187.0 218.0 186.6 218.5 186.1 219.0 185.6 219.5 185.2 220.0 184.7 220.5 184.2 221.0 183.8 221.5 183.3 222.0 182.8 222.5 182.4 223.0 181.9 223.5 181.4 224.0 181.0 224.5 180.5 225.0 180.0 225.5 179.6 226.0 179.1 226.5 178.6 227.0 178.2 227.5 177.7 228.0 177.2 228.5 176.8 229.0 176.3 229.5 175.8 230.0 175.3 230.5 174.9 231.0 174.4 231.5 173.9 232.0 173.5 232.5 173.0 233.0 172.5 233.5 172.1 234.0 171.6 234.5 171.1 235.0 170.7 235.5 170.2 236.0 169.7 236.5 169.3 237.0 168.8 237.5 168.3 238.0 167.9 238.5 167.4 239.0 166.9 239.5 166.5 240.0 166.0 240.5 165.5 241.0 165.1 241.5 164.6 242.0 164.1 242.5 163.7 243.0 163.2 243.5 162.7 244.0 162.3 244.5 161.8 245.0 161.3 245.5 160.9 246.0 160.4 246.5 159.9 247.0 159.5 247.5 159.0 248.0 158.5 248.5 158.1 249.0 157.6 249.5 157.1 250.0 156.6 250.5 156.2 251.0 155.7 251.5 155.2 252.0 154.8 252.5 154.3 253.0 153.8 253.5 153.4 254.0 152.9 254.5 152.4 255.0 152.0 255.5 151.5 256.0 151.0 256.5 150.6 257.0 150.1 257.5 149.6 258.0 149.2 258.5 148.7 259.0 148.2 259.5 147.8 260.0 147.3 260.5 146.8 261.0 146.4 261.5 145.9 262.0 145.4 262.5 145.0 263.0 144.5 263.5 144.0 264.0 143.6 264.5 143.1 265.0 142.7 265.5 142.2 266.0 141.7 266.5 141.3 267.0 140.8 267.5 140.4 268.0 139.9 268.5 139.4 269.0 139.0 269.5 138.5 270.0 138.0 270.5 137.6 271.0 137.1 271.5 136.6 272.0 136.2 272.5 135.7 273.0 135.2 273.5 134.8 274.0 134.3 274.5 133.8 275.0 133.4 275.5 132.9 276.0 132.4 276.5 131.9 277.0 131.5 277.5 131.0 278.0 130.5 278.5 130.0 279.0 129.5 279.5 129.0 280.0 128.5 280.5 128.0 281.0 127.5 281.5 127.0 282.0 126.5 282.5 126.0 283.0 125.5 283.5 125.0 284.0 124.4 284.5 123.9 285.0 123.4 285.5 122.9 286.0 122.4 286.5 121.9 287.0 121.4 287.5 120.9 288.0 120.4 288.5 120.0 289.0 119.5 289.5 119.0 290.0 118.6 290.5 118.1 291.0 117.7 291.5 117.3 292.0 116.8 292.5 116.4 293.0 116.0 293.5 115.6 294.0 115.2 294.5 114.7 295.0 114.3 295.5 113.9 296.0 113.5 296.5 113.1 297.0 112.7 297.5 112.3 298.0 111.9 298.5 111.5 299.0 111.1 299.5 110.7 300.0 110.3 300.5 109.9 301.0 109.5 301.5 109.1 302.0 108.7 302.5 108.3 303.0 107.9 303.5 107.5 304.0 107.1 304.5 106.7 305.0 106.3 305.5 105.9 306.0 105.6 306.5 105.2 307.0 104.8 307.5 104.4 308.0 104.1 308.5 103.7 309.0 103.3 309.5 102.9 310.0 102.6 310.5 102.2 311.0 101.8 311.5 101.5 312.0 101.1 312.5 100.7 313.0 100.4 313.5 100.0 314.0 99.7 314.5 99.3 315.0 99.0 315.5 98.6 316.0 98.3 316.5 97.9 317.0 97.6 317.5 97.2 318.0 96.9 318.5 96.6 319.0 96.2 319.5 95.9 320.0 95.5 320.5 95.2 321.0 94.9 321.5 94.5 322.0 94.2 322.5 93.9 323.0 93.6 323.5 93.2 324.0 92.9 324.5 92.6 325.0 92.3 325.5 92.0 326.0 91.6 326.5 91.3 327.0 91.0 327.5 90.7 328.0 90.4 328.5 90.1 329.0 89.8 329.5 89.5 330.0 89.2 330.5 88.9 331.0 88.6 331.5 88.3 332.0 88.0 332.5 87.7 333.0 87.4 333.5 87.1 334.0 86.8 334.5 86.5 335.0 86.2 335.5 85.9 336.0 85.6 336.5 85.3 337.0 85.1 337.5 84.8 338.0 84.5 338.5 84.2 339.0 83.9 339.5 83.7 340.0 83.4 340.5 83.1 341.0 82.8 341.5 82.6 342.0 82.3 342.5 82.0 343.0 81.8 343.5 81.5 344.0 81.3 344.5 81.0 345.0 80.7 345.5 80.5 346.0 80.2 346.5 80.0 347.0 79.7 347.5 79.5 348.0 79.2 348.5 79.0 349.0 78.7 349.5 78.5 350.0 78.2 350.5 78.0 351.0 77.7 351.5 77.5 352.0 77.3 352.5 77.0 353.0 76.8 353.5 76.5 354.0 76.3 354.5 76.1 355.0 75.8 355.5 75.6 356.0 75.4 356.5 75.2 357.0 74.9 357.5 74.7 358.0 74.5 358.5 74.3 359.0 74.1 359.5 73.8 360.0 73.6 360.5 73.4 361.0 73.2 361.5 73.0 362.0 72.8 362.5 72.6 363.0 72.3 363.5 72.1 364.0 71.9 364.5 71.7 365.0 71.5 365.5 71.3 366.0 71.1 366.5 70.9 367.0 70.7 367.5 70.5 368.0 70.3 368.5 70.1 369.0 69.9 369.5 69.8 370.0 69.6 370.5 69.4 371.0 69.2 371.5 69.0 372.0 68.8 372.5 68.6 373.0 68.4 373.5 68.3 374.0 68.1 374.5 67.9 375.0 67.7 375.5 67.6 376.0 67.4 376.5 67.2 377.0 67.0 377.5 66.9 378.0 66.7 378.5 66.5 379.0 66.4 379.5 66.2 380.0 66.0 380.5 65.9 381.0 65.7 381.5 65.5 382.0 65.4 382.5 65.2 383.0 65.1 383.5 64.9 384.0 64.7 384.5 64.6 385.0 64.4 385.5 64.3 386.0 64.1 386.5 64.0 387.0 63.8 387.5 63.7 388.0 63.6 388.5 63.4 389.0 63.3 389.5 63.1 390.0 63.0 390.5 62.8 391.0 62.7 391.5 62.6 392.0 62.4 392.5 62.3 393.0 62.2 393.5 62.0 394.0 61.9 394.5 61.8 395.0 61.6 395.5 61.5 396.0 61.4 396.5 61.3 397.0 61.1 397.5 61.0 398.0 60.9 398.5 60.8 399.0 60.6 399.5 60.5 400.0 60.4 400.5 60.3 401.0 60.2 401.5 60.1 402.0 59.9 402.5 59.8 403.0 59.7 403.5 59.6 404.0 59.5 404.5 59.4 405.0 59.3 405.5 59.2 406.0 59.1 406.5 59.0 407.0 58.9 407.5 58.8 408.0 58.7 408.5 58.6 409.0 58.5 409.5 58.4 410.0 58.3 410.5 58.2 411.0 58.1 411.5 58.0 412.0 57.9 412.5 57.8 413.0 57.7 413.5 57.6 414.0 57.6 414.5 57.5 415.0 57.4 415.5 57.3 416.0 57.2 416.5 57.1 417.0 57.1 417.5 57.0 418.0 56.9 418.5 56.8 419.0 56.7 419.5 56.7 420.0 56.6 420.5 56.5 421.0 56.4 421.5 56.4 422.0 56.3 422.5 56.2 423.0 56.1 423.5 56.1 424.0 56.0 424.5 55.9 425.0 55.9" stroke="#ffc000" stroke-width="2.5"/>
</g>
<path d="M96.0 204.8V25" stroke="#1a1a1a" stroke-width="2" fill="none"/>
<path d="M95.0 205.20000000000002H418" stroke="#1a1a1a" stroke-width="2.1" fill="none"/>
<path d="M96.0 20.8 L92.5 27.5 L96.0 26.6 L99.5 27.5Z" fill="#1a1a1a"/>
<path d="M423.6 205.20000000000002 L416.8 202.20000000000002 L418.3 205.20000000000002 L416.8 208.20000000000002Z" fill="#1a1a1a"/>
<text x="85" y="23.4" font-size="11" fill="#262626" stroke="#262626" text-anchor="end" textLength="10.6" lengthAdjust="spacingAndGlyphs">10</text>
<text x="85.6" y="20.0" font-size="7.6" fill="#262626" stroke="#262626">−4</text>
<text x="85" y="60.3" font-size="11" fill="#262626" stroke="#262626" text-anchor="end" textLength="10.6" lengthAdjust="spacingAndGlyphs">10</text>
<text x="85.6" y="56.9" font-size="7.6" fill="#262626" stroke="#262626">−5</text>
<text x="85" y="97.1" font-size="11" fill="#262626" stroke="#262626" text-anchor="end" textLength="10.6" lengthAdjust="spacingAndGlyphs">10</text>
<text x="85.6" y="93.7" font-size="7.6" fill="#262626" stroke="#262626">−6</text>
<text x="85" y="134.0" font-size="11" fill="#262626" stroke="#262626" text-anchor="end" textLength="10.6" lengthAdjust="spacingAndGlyphs">10</text>
<text x="85.6" y="130.6" font-size="7.6" fill="#262626" stroke="#262626">−7</text>
<text x="85" y="170.9" font-size="11" fill="#262626" stroke="#262626" text-anchor="end" textLength="10.6" lengthAdjust="spacingAndGlyphs">10</text>
<text x="85.6" y="167.5" font-size="7.6" fill="#262626" stroke="#262626">−8</text>
<text x="85" y="207.7" font-size="11" fill="#262626" stroke="#262626" text-anchor="end" textLength="10.6" lengthAdjust="spacingAndGlyphs">10</text>
<text x="85.6" y="204.3" font-size="7.6" fill="#262626" stroke="#262626">−9</text>
<text x="97.9" y="222" font-size="10.8" fill="#262626" stroke="#262626" text-anchor="middle" textLength="14.4" lengthAdjust="spacingAndGlyphs">0.5</text>
<text x="162.5" y="222" font-size="10.8" fill="#262626" stroke="#262626" text-anchor="middle" textLength="14.4" lengthAdjust="spacingAndGlyphs">0.6</text>
<text x="229.6" y="222" font-size="10.8" fill="#262626" stroke="#262626" text-anchor="middle" textLength="14.4" lengthAdjust="spacingAndGlyphs">0.7</text>
<text x="293.8" y="222" font-size="10.8" fill="#262626" stroke="#262626" text-anchor="middle" textLength="14.4" lengthAdjust="spacingAndGlyphs">0.8</text>
<text x="360" y="222" font-size="10.8" fill="#262626" stroke="#262626" text-anchor="middle" textLength="14.4" lengthAdjust="spacingAndGlyphs">0.9</text>
<text x="423.3" y="222" font-size="10.8" fill="#262626" stroke="#262626" text-anchor="middle" textLength="5.6" lengthAdjust="spacingAndGlyphs">1</text>
<text transform="translate(60.6 112.8) rotate(-90)" font-size="12.5" fill="#262626" stroke="#262626" text-anchor="middle" textLength="44" lengthAdjust="spacingAndGlyphs">I<tspan font-size="8.5" dy="2.5">C</tspan><tspan dy="-2.5">, I</tspan><tspan font-size="8.5" dy="2.5">B</tspan><tspan dy="-2.5"> [A]</tspan></text>
<text x="241.7" y="241.3" font-size="12.5" fill="#707070" stroke="#707070" textLength="36.5" lengthAdjust="spacingAndGlyphs">V<tspan font-size="8" dy="2">BE</tspan><tspan dy="-2"> [V]</tspan></text>
<text x="374.2" y="191.3" font-size="10.4" fill="#262626" stroke="#262626">V<tspan font-size="7.4">BC</tspan> = 0 [V]</text>
<rect x="259" y="38.3" width="104.5" height="15" fill="#fff"/><rect x="339" y="118.8" width="80" height="13" fill="#fff"/>
<text x="261.2" y="49.6" font-size="14" fill="#1a1a1a" stroke="#1a1a1a" textLength="99.8" lengthAdjust="spacingAndGlyphs">collector currents</text>
<text x="341" y="129" font-size="14" fill="#1a1a1a" stroke="#1a1a1a" textLength="75.8" lengthAdjust="spacingAndGlyphs">base currents</text>
<ellipse cx="397.7" cy="59" rx="8.2" ry="9.4" fill="none" stroke="#2f5597" stroke-width="1.6" stroke-dasharray="3.6 2.5"/>
<ellipse cx="421.5" cy="70" rx="8" ry="9.4" fill="none" stroke="#2f5597" stroke-width="1.6" stroke-dasharray="3.6 2.5"/>
<path d="M366.7 47.6L383.8 53.3" stroke="#2f5597" stroke-width="1.7" fill="none"/><path d="M389.5 55.2L381.8 56.3L384.0 49.7Z" fill="#2f5597"/>
<path d="M388.2 119.9L412.2 83.6" stroke="#2f5597" stroke-width="1.7" fill="none"/><path d="M415.5 78.6L414.6 86.4L408.7 82.5Z" fill="#2f5597"/>
<rect x="9" y="280" width="430.5" height="236.7" fill="none" stroke="#e3e3e3" stroke-width="1.2"/>
<path d="M164.5 292.3V472.0 M229.5 292.3V472.0 M294.2 292.3V472.0 M359.5 292.3V472.0 M424.3 292.3V472.0 M99.6 292.3H424.3 M99.6 328.2H424.3 M99.6 364.2H424.3 M99.6 400.1H424.3 M99.6 436.1H424.3" stroke="#d9d9d9" stroke-width="1" fill="none"/>
<g fill="none">
<path d="M99.6 466.3L101.1 466.0 102.6 465.8 104.1 465.5 M110.7 464.2L112.6 463.8 114.5 463.3 116.4 462.9 M122.8 461.2L124.7 460.7 126.6 460.2 128.4 459.7 M134.8 457.7L136.7 457.1 138.5 456.5 140.4 455.9 M146.7 453.8L148.5 453.1 150.3 452.5 152.2 451.8 M158.4 449.5L160.2 448.8 162.0 448.1 163.8 447.4 M170.1 444.9L171.8 444.1 173.6 443.4 175.4 442.7 M181.6 440.1L183.4 439.4 185.2 438.6 187.0 437.8 M193.1 435.2L194.9 434.5 196.7 433.7 198.4 432.9 M204.6 430.3L206.4 429.5 208.2 428.7 209.9 428.0 M216.1 425.3L217.8 424.5 219.6 423.8 221.4 423.0 M227.6 420.4L229.3 419.6 231.1 418.8 232.9 418.1 M239.0 415.4L240.8 414.7 242.6 413.9 244.4 413.2 M250.6 410.6L252.4 409.9 254.1 409.1 255.9 408.4 M262.1 405.8L263.9 405.1 265.7 404.4 267.5 403.7 M273.7 401.2L275.5 400.5 277.3 399.8 279.2 399.1 M285.4 396.8L287.2 396.1 289.0 395.4 290.9 394.8 M297.2 392.5L299.0 391.9 300.8 391.2 302.6 390.6 M309.0 388.4L310.8 387.8 312.7 387.2 314.5 386.6 M320.9 384.5L322.7 384.0 324.6 383.4 326.4 382.8 M332.8 380.9L334.7 380.3 336.5 379.8 338.4 379.3 M344.8 377.5L346.7 377.0 348.6 376.5 350.4 376.0 M356.9 374.3L358.8 373.8 360.7 373.4 362.6 372.9 M369.1 371.4L371.0 370.9 372.9 370.5 374.7 370.1 M381.3 368.7L383.2 368.3 385.1 367.9 387.0 367.6 M393.6 366.3L395.5 366.0 397.4 365.6 399.3 365.3 M405.9 364.1L407.8 363.8 409.7 363.5 411.6 363.2 M418.2 362.2L420.1 361.9 422.1 361.7 424.0 361.4" stroke="#264478" stroke-width="2.3"/>
<path d="M99.6 457.9L99.9 457.9 100.2 457.9 100.5 457.8 M107.1 457.1L109.0 456.8 110.9 456.5 112.8 456.2 M119.3 455.1L121.2 454.7 123.1 454.4 124.9 454.0 M131.7 452.4L133.5 452.0 135.4 451.5 137.2 451.1 M143.9 449.3L145.7 448.8 147.5 448.2 149.4 447.7 M156.0 445.7L157.8 445.1 159.6 444.6 161.4 444.0 M168.0 441.8L169.8 441.2 171.5 440.6 173.3 440.0 M179.9 437.7L181.6 437.1 183.4 436.4 185.2 435.8 M191.7 433.5L193.5 432.8 195.3 432.2 197.0 431.5 M203.5 429.2L205.3 428.5 207.1 427.9 208.9 427.2 M215.4 424.8L217.1 424.2 218.9 423.5 220.7 422.9 M227.2 420.5L229.0 419.9 230.7 419.2 232.5 418.6 M239.0 416.2L240.8 415.6 242.6 414.9 244.4 414.3 M250.6 412.1L252.4 411.5 254.1 410.9 255.9 410.3 M262.1 408.1L263.9 407.5 265.7 406.8 267.5 406.2 M273.7 404.0L275.5 403.3 277.3 402.7 279.2 402.0 M285.4 399.7L287.2 399.0 289.0 398.4 290.9 397.7 M297.2 395.4L299.0 394.7 300.8 394.0 302.6 393.4 M309.0 391.1L310.8 390.4 312.7 389.7 314.5 389.1 M320.9 386.8L322.7 386.2 324.6 385.5 326.4 384.9 M332.8 382.8L334.7 382.1 336.5 381.5 338.4 380.9 M344.8 378.9L346.7 378.4 348.6 377.8 350.4 377.3 M356.9 375.4L358.8 374.9 360.7 374.4 362.6 374.0 M369.1 372.4L371.0 371.9 372.9 371.5 374.7 371.1 M381.3 369.7L383.2 369.3 385.1 368.9 387.0 368.5 M393.6 367.3L395.5 367.0 397.4 366.6 399.3 366.3 M405.9 365.2L407.8 364.9 409.7 364.6 411.6 364.3 M418.2 363.3L420.1 363.0 422.1 362.7 424.0 362.4" stroke="#5b9bd5" stroke-width="2.3"/>
<path d="M106.0 455.2L107.9 454.9 109.8 454.6 111.7 454.3 M118.3 452.9L120.1 452.5 122.0 452.0 123.8 451.6 M130.7 449.8L132.6 449.3 134.4 448.8 136.2 448.2 M143.0 446.2L144.9 445.6 146.7 445.0 148.5 444.4 M155.2 442.2L157.0 441.6 158.8 441.0 160.6 440.4 M167.3 438.1L169.1 437.5 170.9 436.9 172.7 436.3 M179.3 434.0L181.1 433.4 182.9 432.8 184.7 432.2 M191.3 429.9L193.1 429.3 194.8 428.7 196.6 428.0 M203.2 425.7L205.0 425.0 206.8 424.4 208.5 423.8 M215.1 421.4L216.9 420.7 218.7 420.1 220.5 419.4 M227.1 417.0L228.8 416.4 230.6 415.7 232.4 415.1 M239.0 412.7L240.8 412.0 242.6 411.4 244.3 410.8 M250.6 408.5L252.4 407.9 254.1 407.3 255.9 406.6 M262.1 404.5L263.9 403.8 265.7 403.2 267.5 402.6 M273.7 400.5L275.5 399.9 277.3 399.3 279.2 398.7 M285.4 396.7L287.2 396.2 289.0 395.6 290.9 395.0 M297.2 393.1L299.0 392.5 300.8 392.0 302.6 391.5 M309.0 389.6L310.8 389.1 312.7 388.6 314.5 388.0 M320.9 386.3L322.7 385.8 324.6 385.3 326.4 384.8 M332.8 383.1L334.7 382.6 336.5 382.1 338.4 381.6 M344.8 380.0L346.7 379.6 348.6 379.1 350.4 378.7 M356.9 377.2L358.8 376.8 360.7 376.5 362.6 376.1 M369.1 374.9L371.0 374.6 372.9 374.2 374.7 373.9 M381.3 372.9L383.2 372.6 385.1 372.3 387.0 372.0 M393.6 371.0L395.5 370.7 397.4 370.4 399.3 370.1 M405.9 369.1L407.8 368.7 409.7 368.4 411.6 368.1 M418.2 367.0L420.1 366.6 422.1 366.3 424.0 365.9" stroke="#70ad47" stroke-width="2.3"/>
<path d="M99.6 452.8L99.9 452.7 100.2 452.7 100.5 452.6 M107.1 451.6L109.0 451.3 110.9 450.9 112.8 450.6 M119.3 449.1L121.2 448.7 123.1 448.3 124.9 447.8 M131.7 446.0L133.5 445.5 135.4 445.0 137.2 444.5 M143.9 442.5L145.7 441.9 147.5 441.3 149.4 440.7 M156.0 438.5L157.8 437.9 159.6 437.2 161.4 436.6 M168.0 434.2L169.8 433.5 171.5 432.9 173.3 432.2 M179.9 429.7L181.6 429.0 183.4 428.4 185.2 427.7 M191.7 425.1L193.5 424.4 195.3 423.7 197.0 423.0 M203.5 420.4L205.3 419.7 207.1 419.0 208.9 418.3 M215.4 415.8L217.1 415.1 218.9 414.4 220.7 413.7 M227.2 411.2L229.0 410.5 230.7 409.8 232.5 409.1 M239.0 406.6L240.8 406.0 242.6 405.3 244.4 404.6 M250.6 402.3L252.4 401.7 254.1 401.0 255.9 400.4 M262.1 398.2L263.9 397.5 265.7 396.9 267.5 396.3 M273.7 394.2L275.5 393.6 277.3 393.0 279.2 392.4 M285.4 390.3L287.2 389.8 289.0 389.2 290.9 388.6 M297.2 386.7L299.0 386.2 300.8 385.6 302.6 385.1 M309.0 383.3L310.8 382.8 312.7 382.2 314.5 381.7 M320.9 380.0L322.7 379.5 324.6 379.1 326.4 378.6 M332.8 377.0L334.7 376.5 336.5 376.0 338.4 375.6 M344.8 374.1L346.7 373.6 348.6 373.2 350.4 372.8 M356.9 371.4L358.8 371.0 360.7 370.6 362.6 370.2 M369.1 368.8L371.0 368.5 372.9 368.1 374.7 367.7 M381.3 366.5L383.2 366.1 385.1 365.8 387.0 365.5 M393.6 364.3L395.5 364.0 397.4 363.7 399.3 363.4 M405.9 362.3L407.8 362.0 409.7 361.7 411.6 361.4 M418.2 360.5L420.1 360.2 422.1 360.0 424.0 359.7" stroke="#a5a5a5" stroke-width="2.3"/>
<path d="M105.8 451.1L107.7 450.8 109.6 450.4 111.5 450.0 M118.1 448.6L119.9 448.2 121.8 447.7 123.6 447.3 M130.5 445.5L132.4 445.0 134.2 444.5 136.1 443.9 M142.9 441.9L144.7 441.3 146.5 440.8 148.3 440.2 M155.1 438.0L156.9 437.4 158.7 436.8 160.5 436.2 M167.2 433.9L169.0 433.2 170.8 432.6 172.6 432.0 M179.2 429.6L181.0 429.0 182.8 428.4 184.6 427.7 M191.2 425.3L193.0 424.7 194.8 424.1 196.5 423.4 M203.2 421.0L204.9 420.4 206.7 419.8 208.5 419.1 M215.1 416.8L216.9 416.1 218.6 415.5 220.4 414.9 M227.0 412.6L228.8 411.9 230.6 411.3 232.4 410.7 M239.0 408.4L240.8 407.8 242.6 407.2 244.3 406.5 M250.6 404.4L252.4 403.8 254.1 403.2 255.9 402.6 M262.1 400.6L263.9 400.0 265.7 399.4 267.5 398.8 M273.7 396.8L275.5 396.3 277.3 395.7 279.2 395.1 M285.4 393.1L287.2 392.6 289.0 392.0 290.9 391.4 M297.2 389.5L299.0 389.0 300.8 388.4 302.6 387.8 M309.0 385.9L310.8 385.4 312.7 384.8 314.5 384.3 M320.9 382.4L322.7 381.9 324.6 381.3 326.4 380.8 M332.8 378.9L334.7 378.4 336.5 377.9 338.4 377.3 M344.8 375.5L346.7 375.0 348.6 374.4 350.4 373.9 M356.9 372.1L358.8 371.6 360.7 371.1 362.6 370.6 M369.1 369.0L371.0 368.5 372.9 368.0 374.7 367.6 M381.3 366.0L383.2 365.6 385.1 365.2 387.0 364.8 M393.6 363.4L395.5 363.1 397.4 362.7 399.3 362.4 M405.9 361.3L407.8 361.0 409.7 360.7 411.6 360.4 M418.2 359.6L420.1 359.4 422.1 359.2 424.0 359.0" stroke="#ffc000" stroke-width="2.3"/>
<path d="M104.0 446.4L105.9 446.3 107.8 446.2 109.7 446.0 M116.3 445.3L118.2 445.1 120.0 444.9 121.9 444.6 M129.0 443.5L130.8 443.2 132.6 442.9 134.5 442.6 M141.5 441.2L143.3 440.8 145.1 440.4 146.9 440.0 M153.9 438.4L155.7 437.9 157.5 437.4 159.3 437.0 M166.2 435.1L167.9 434.6 169.7 434.1 171.5 433.6 M178.4 431.5L180.1 431.0 181.9 430.4 183.7 429.9 M190.5 427.7L192.3 427.1 194.1 426.5 195.8 425.9 M202.6 423.5L204.4 422.9 206.2 422.3 207.9 421.6 M214.7 419.2L216.5 418.6 218.3 417.9 220.1 417.3 M226.9 414.7L228.6 414.1 230.4 413.4 232.2 412.7 M239.0 410.2L240.8 409.5 242.6 408.8 244.3 408.2 M250.6 405.8L252.4 405.1 254.1 404.5 255.9 403.8 M262.1 401.5L263.9 400.8 265.7 400.1 267.5 399.5 M273.7 397.2L275.5 396.5 277.3 395.8 279.2 395.2 M285.4 393.0L287.2 392.3 289.0 391.7 290.9 391.0 M297.2 388.9L299.0 388.2 300.8 387.6 302.6 387.0 M309.0 384.9L310.8 384.3 312.7 383.7 314.5 383.1 M320.9 381.1L322.7 380.6 324.6 380.0 326.4 379.4 M332.8 377.5L334.7 377.0 336.5 376.5 338.4 375.9 M344.8 374.1L346.7 373.6 348.6 373.1 350.4 372.6 M356.9 370.9L358.8 370.5 360.7 370.0 362.6 369.5 M369.1 368.0L371.0 367.6 372.9 367.1 374.7 366.7 M381.3 365.3L383.2 364.9 385.1 364.6 387.0 364.2 M393.6 362.9L395.5 362.6 397.4 362.3 399.3 362.0 M405.9 360.9L407.8 360.6 409.7 360.3 411.6 360.0 M418.2 359.2L420.1 358.9 422.1 358.7 424.0 358.5" stroke="#ed7d31" stroke-width="2.3"/>
<path d="M99.6 447.5L99.9 447.5 100.2 447.5 100.5 447.5 M107.1 446.9L109.0 446.7 110.9 446.5 112.8 446.3 M119.3 445.5L121.2 445.2 123.1 445.0 124.9 444.7 M131.7 443.6L133.5 443.3 135.4 443.0 137.2 442.7 M143.9 441.4L145.7 441.0 147.5 440.6 149.4 440.2 M156.0 438.7L157.8 438.3 159.6 437.9 161.4 437.4 M168.0 435.7L169.8 435.2 171.5 434.7 173.3 434.2 M179.9 432.3L181.6 431.7 183.4 431.2 185.2 430.6 M191.7 428.4L193.5 427.8 195.3 427.2 197.0 426.5 M203.5 424.2L205.3 423.5 207.1 422.8 208.9 422.1 M215.4 419.6L217.1 418.9 218.9 418.1 220.7 417.4 M227.2 414.8L229.0 414.0 230.7 413.3 232.5 412.6 M239.0 409.8L240.8 409.1 242.6 408.4 244.4 407.6 M250.6 405.1L252.4 404.3 254.1 403.6 255.9 402.9 M262.1 400.4L263.9 399.7 265.7 399.0 267.5 398.3 M273.7 395.9L275.5 395.2 277.3 394.6 279.2 393.9 M285.4 391.7L287.2 391.1 289.0 390.5 290.9 389.9 M297.2 387.8L299.0 387.2 300.8 386.6 302.6 386.1 M309.0 384.1L310.8 383.6 312.7 383.0 314.5 382.5 M320.9 380.6L322.7 380.1 324.6 379.6 326.4 379.1 M332.8 377.3L334.7 376.8 336.5 376.2 338.4 375.7 M344.8 374.0L346.7 373.5 348.6 373.0 350.4 372.5 M356.9 370.9L358.8 370.4 360.7 369.9 362.6 369.5 M369.1 368.0L371.0 367.6 372.9 367.2 374.7 366.8 M381.3 365.5L383.2 365.2 385.1 364.8 387.0 364.4 M393.6 363.2L395.5 362.9 397.4 362.6 399.3 362.2 M405.9 361.1L407.8 360.8 409.7 360.5 411.6 360.1 M418.2 359.1L420.1 358.7 422.1 358.4 424.0 358.1" stroke="#b0530f" stroke-width="2.3"/>
</g>
<path d="M99.6 472.0V297" stroke="#1a1a1a" stroke-width="2" fill="none"/>
<path d="M98.6 472.3H419" stroke="#1a1a1a" stroke-width="2" fill="none"/>
<path d="M99.6 292.8 L96.1 299.5 L99.6 298.6 L103.1 299.5Z" fill="#1a1a1a"/>
<path d="M424.2 472.3 L417.4 469.3 L418.9 472.3 L417.4 475.3Z" fill="#1a1a1a"/>
<g>
<path d="M99.6 418.0L101.1 417.1 102.6 416.3 104.1 415.5 105.6 414.6 107.1 413.8 108.6 413.0 110.1 412.2 111.6 411.4 113.1 410.5 114.6 409.7 116.1 408.9 117.6 408.1 119.1 407.4 120.6 406.6 122.1 405.8 123.6 405.0 125.1 404.2 126.6 403.5 128.1 402.7 129.6 401.9 131.1 401.2 132.6 400.4 134.1 399.7 135.6 398.9 137.1 398.2 138.6 397.4 140.1 396.7 141.6 396.0 143.1 395.2 144.6 394.5 146.1 393.8 147.6 393.1 149.1 392.4 150.6 391.7 152.1 391.0 153.6 390.3 155.1 389.6 156.6 388.9 158.1 388.2 159.6 387.5 161.1 386.8 162.6 386.1 164.1 385.5 165.6 384.8 167.1 384.1 168.6 383.5 170.1 382.8 171.6 382.2 173.1 381.5 174.6 380.9 176.1 380.2 177.6 379.6 179.1 379.0 180.6 378.3 182.1 377.7 183.6 377.1 185.1 376.5 186.6 375.8 188.1 375.2 189.6 374.6 191.1 374.0 192.6 373.4 194.1 372.8 195.6 372.2 197.1 371.6 198.6 371.1 200.1 370.5 201.6 369.9 203.1 369.3 204.6 368.8 206.1 368.2 207.6 367.6 209.1 367.1 210.6 366.5 212.1 366.0 213.6 365.4 215.1 364.9 216.6 364.3 218.1 363.8 219.6 363.3 221.1 362.7 222.6 362.2 224.1 361.7 225.6 361.2 227.1 360.6 228.6 360.1 230.1 359.6 231.6 359.1 233.1 358.6 234.6 358.1 236.1 357.6 237.6 357.1 239.1 356.6 240.6 356.2 242.1 355.7 243.6 355.2 245.1 354.7 246.6 354.3 248.1 353.8 249.6 353.3 251.1 352.9 252.6 352.4 254.1 352.0 255.6 351.5 257.1 351.1 258.6 350.6 260.1 350.2 261.6 349.8 263.1 349.3 264.6 348.9 266.1 348.5 267.6 348.1 269.1 347.6 270.6 347.2 272.1 346.8 273.6 346.4 275.1 346.0 276.6 345.6 278.1 345.2 279.6 344.8 281.1 344.4 282.6 344.0 284.1 343.6 285.6 343.3 287.1 342.9 288.6 342.5 290.1 342.1 291.6 341.8 293.1 341.4 294.6 341.0 296.1 340.7 297.6 340.3 299.1 340.0 300.6 339.6 302.1 339.3 303.6 338.9 305.1 338.6 306.6 338.3 308.1 337.9 309.6 337.6 311.1 337.3 312.6 337.0 314.1 336.6 315.6 336.3 317.1 336.0 318.6 335.7 320.1 335.4 321.6 335.1 323.1 334.8 324.6 334.5 326.1 334.2 327.6 333.9 329.1 333.6 330.6 333.3 332.1 333.1 333.6 332.8 335.1 332.5 336.6 332.2 338.1 332.0 339.6 331.7 341.1 331.4 342.6 331.2 344.1 330.9 345.6 330.7 347.1 330.4 348.6 330.2 350.1 329.9 351.6 329.7 353.1 329.4 354.6 329.2 356.1 329.0 357.6 328.7 359.1 328.5 360.6 328.3 362.1 328.1 363.6 327.9 365.1 327.6 366.6 327.4 368.1 327.2 369.6 327.0 371.1 326.8 372.6 326.6 374.1 326.4 375.6 326.2 377.1 326.0 378.6 325.8 380.1 325.7 381.6 325.5 383.1 325.3 384.6 325.1 386.1 324.9 387.6 324.8 389.1 324.6 390.6 324.4 392.1 324.3 393.6 324.1 395.1 324.0 396.6 323.8 398.1 323.6 399.6 323.5 401.1 323.4 402.6 323.2 404.1 323.1 405.6 322.9 407.1 322.8 408.6 322.7 410.1 322.5 411.6 322.4 413.1 322.3 414.6 322.2 416.1 322.0 417.6 321.9 419.1 321.8 420.6 321.7 422.1 321.6 423.6 321.5" stroke="#bf9000" stroke-width="1.1" fill="none"/>
<g fill="#fff" fill-opacity="0.3" stroke="#bf9000" stroke-width="1.1"><circle cx="99.6" cy="418.0" r="2.9"/><circle cx="106.1" cy="414.4" r="2.9"/><circle cx="112.6" cy="410.8" r="2.9"/><circle cx="119.1" cy="407.4" r="2.9"/><circle cx="125.5" cy="404.0" r="2.9"/><circle cx="132.0" cy="400.7" r="2.9"/><circle cx="138.5" cy="397.5" r="2.9"/><circle cx="145.0" cy="394.3" r="2.9"/><circle cx="151.5" cy="391.2" r="2.9"/><circle cx="158.0" cy="388.2" r="2.9"/><circle cx="164.5" cy="385.3" r="2.9"/><circle cx="170.9" cy="382.4" r="2.9"/><circle cx="177.4" cy="379.7" r="2.9"/><circle cx="183.9" cy="376.9" r="2.9"/><circle cx="190.4" cy="374.3" r="2.9"/><circle cx="196.9" cy="371.7" r="2.9"/><circle cx="203.4" cy="369.2" r="2.9"/><circle cx="209.9" cy="366.8" r="2.9"/><circle cx="216.3" cy="364.4" r="2.9"/><circle cx="222.8" cy="362.1" r="2.9"/><circle cx="229.3" cy="359.9" r="2.9"/><circle cx="235.8" cy="357.7" r="2.9"/><circle cx="242.3" cy="355.6" r="2.9"/><circle cx="248.8" cy="353.6" r="2.9"/><circle cx="255.3" cy="351.6" r="2.9"/><circle cx="261.8" cy="349.7" r="2.9"/><circle cx="268.2" cy="347.9" r="2.9"/><circle cx="274.7" cy="346.1" r="2.9"/><circle cx="281.2" cy="344.4" r="2.9"/><circle cx="287.7" cy="342.7" r="2.9"/><circle cx="294.2" cy="341.1" r="2.9"/><circle cx="300.7" cy="339.6" r="2.9"/><circle cx="307.2" cy="338.2" r="2.9"/><circle cx="313.6" cy="336.7" r="2.9"/><circle cx="320.1" cy="335.4" r="2.9"/><circle cx="326.6" cy="334.1" r="2.9"/><circle cx="333.1" cy="332.9" r="2.9"/><circle cx="339.6" cy="331.7" r="2.9"/><circle cx="346.1" cy="330.6" r="2.9"/><circle cx="352.6" cy="329.5" r="2.9"/><circle cx="359.0" cy="328.5" r="2.9"/><circle cx="365.5" cy="327.6" r="2.9"/><circle cx="372.0" cy="326.7" r="2.9"/><circle cx="378.5" cy="325.9" r="2.9"/><circle cx="385.0" cy="325.1" r="2.9"/><circle cx="391.5" cy="324.3" r="2.9"/><circle cx="398.0" cy="323.7" r="2.9"/><circle cx="404.4" cy="323.0" r="2.9"/><circle cx="410.9" cy="322.5" r="2.9"/><circle cx="417.4" cy="321.9" r="2.9"/><circle cx="423.9" cy="321.5" r="2.9"/></g>
<path d="M99.6 430.0L101.1 429.2 102.6 428.3 104.1 427.4 105.6 426.6 107.1 425.7 108.6 424.8 110.1 423.9 111.6 423.0 113.1 422.2 114.6 421.3 116.1 420.4 117.6 419.5 119.1 418.6 120.6 417.7 122.1 416.8 123.6 416.0 125.1 415.1 126.6 414.2 128.1 413.3 129.6 412.5 131.1 411.6 132.6 410.7 134.1 409.8 135.6 409.0 137.1 408.1 138.6 407.3 140.1 406.4 141.6 405.6 143.1 404.7 144.6 403.9 146.1 403.1 147.6 402.2 149.1 401.4 150.6 400.6 152.1 399.8 153.6 398.9 155.1 398.1 156.6 397.3 158.1 396.5 159.6 395.8 161.1 395.0 162.6 394.2 164.1 393.4 165.6 392.7 167.1 391.9 168.6 391.2 170.1 390.4 171.6 389.7 173.1 389.0 174.6 388.3 176.1 387.5 177.6 386.8 179.1 386.2 180.6 385.5 182.1 384.8 183.6 384.1 185.1 383.5 186.6 382.8 188.1 382.2 189.6 381.5 191.1 380.9 192.6 380.2 194.1 379.6 195.6 379.0 197.1 378.3 198.6 377.7 200.1 377.1 201.6 376.5 203.1 375.9 204.6 375.3 206.1 374.6 207.6 374.0 209.1 373.4 210.6 372.8 212.1 372.2 213.6 371.6 215.1 370.9 216.6 370.3 218.1 369.7 219.6 369.1 221.1 368.5 222.6 367.8 224.1 367.2 225.6 366.5 227.1 365.9 228.6 365.3 230.1 364.6 231.6 364.0 233.1 363.4 234.6 362.8 236.1 362.2 237.6 361.6 239.1 361.0 240.6 360.4 242.1 359.8 243.6 359.2 245.1 358.6 246.6 358.1 248.1 357.5 249.6 356.9 251.1 356.4 252.6 355.8 254.1 355.3 255.6 354.8 257.1 354.2 258.6 353.7 260.1 353.2 261.6 352.7 263.1 352.2 264.6 351.7 266.1 351.2 267.6 350.7 269.1 350.2 270.6 349.8 272.1 349.3 273.6 348.8 275.1 348.4 276.6 347.9 278.1 347.5 279.6 347.0 281.1 346.6 282.6 346.1 284.1 345.7 285.6 345.3 287.1 344.9 288.6 344.5 290.1 344.1 291.6 343.7 293.1 343.3 294.6 342.9 296.1 342.5 297.6 342.1 299.1 341.7 300.6 341.3 302.1 341.0 303.6 340.6 305.1 340.2 306.6 339.9 308.1 339.5 309.6 339.2 311.1 338.8 312.6 338.5 314.1 338.2 315.6 337.8 317.1 337.5 318.6 337.2 320.1 336.9 321.6 336.5 323.1 336.2 324.6 335.9 326.1 335.6 327.6 335.3 329.1 335.0 330.6 334.7 332.1 334.5 333.6 334.2 335.1 333.9 336.6 333.7 338.1 333.4 339.6 333.2 341.1 332.9 342.6 332.7 344.1 332.5 345.6 332.2 347.1 332.0 348.6 331.8 350.1 331.5 351.6 331.3 353.1 331.1 354.6 330.9 356.1 330.6 357.6 330.4 359.1 330.2 360.6 330.0 362.1 329.8 363.6 329.6 365.1 329.4 366.6 329.2 368.1 329.0 369.6 328.8 371.1 328.6 372.6 328.4 374.1 328.2 375.6 328.0 377.1 327.9 378.6 327.7 380.1 327.5 381.6 327.3 383.1 327.1 384.6 327.0 386.1 326.8 387.6 326.6 389.1 326.4 390.6 326.3 392.1 326.1 393.6 325.9 395.1 325.8 396.6 325.6 398.1 325.4 399.6 325.3 401.1 325.1 402.6 324.9 404.1 324.8 405.6 324.6 407.1 324.5 408.6 324.3 410.1 324.2 411.6 324.0 413.1 323.8 414.6 323.7 416.1 323.5 417.6 323.4 419.1 323.2 420.6 323.1 422.1 322.9 423.6 322.8" stroke="#5b9bd5" stroke-width="0.7" fill="none"/>
<g fill="#fff" fill-opacity="0.3" stroke="#5b9bd5" stroke-width="1.0"><circle cx="99.6" cy="430.0" r="2.75"/><circle cx="106.1" cy="426.3" r="2.75"/><circle cx="112.6" cy="422.5" r="2.75"/><circle cx="119.1" cy="418.6" r="2.75"/><circle cx="125.5" cy="414.8" r="2.75"/><circle cx="132.0" cy="411.0" r="2.75"/><circle cx="138.5" cy="407.3" r="2.75"/><circle cx="145.0" cy="403.7" r="2.75"/><circle cx="151.5" cy="400.1" r="2.75"/><circle cx="158.0" cy="396.6" r="2.75"/><circle cx="164.5" cy="393.3" r="2.75"/><circle cx="170.9" cy="390.0" r="2.75"/><circle cx="177.4" cy="386.9" r="2.75"/><circle cx="183.9" cy="384.0" r="2.75"/><circle cx="190.4" cy="381.2" r="2.75"/><circle cx="196.9" cy="378.4" r="2.75"/><circle cx="203.4" cy="375.8" r="2.75"/><circle cx="209.9" cy="373.1" r="2.75"/><circle cx="216.3" cy="370.4" r="2.75"/><circle cx="222.8" cy="367.7" r="2.75"/><circle cx="229.3" cy="365.0" r="2.75"/><circle cx="235.8" cy="362.3" r="2.75"/><circle cx="242.3" cy="359.7" r="2.75"/><circle cx="248.8" cy="357.2" r="2.75"/><circle cx="255.3" cy="354.9" r="2.75"/><circle cx="261.8" cy="352.6" r="2.75"/><circle cx="268.2" cy="350.5" r="2.75"/><circle cx="274.7" cy="348.5" r="2.75"/><circle cx="281.2" cy="346.6" r="2.75"/><circle cx="287.7" cy="344.7" r="2.75"/><circle cx="294.2" cy="343.0" r="2.75"/><circle cx="300.7" cy="341.3" r="2.75"/><circle cx="307.2" cy="339.8" r="2.75"/><circle cx="313.6" cy="338.3" r="2.75"/><circle cx="320.1" cy="336.8" r="2.75"/><circle cx="326.6" cy="335.5" r="2.75"/><circle cx="333.1" cy="334.3" r="2.75"/><circle cx="339.6" cy="333.2" r="2.75"/><circle cx="346.1" cy="332.1" r="2.75"/><circle cx="352.6" cy="331.2" r="2.75"/><circle cx="359.0" cy="330.2" r="2.75"/><circle cx="365.5" cy="329.3" r="2.75"/><circle cx="372.0" cy="328.5" r="2.75"/><circle cx="378.5" cy="327.7" r="2.75"/><circle cx="385.0" cy="326.9" r="2.75"/><circle cx="391.5" cy="326.2" r="2.75"/><circle cx="398.0" cy="325.4" r="2.75"/><circle cx="404.4" cy="324.7" r="2.75"/><circle cx="410.9" cy="324.1" r="2.75"/><circle cx="417.4" cy="323.4" r="2.75"/><circle cx="423.9" cy="322.7" r="2.75"/></g>
<path d="M99.6 429.0L101.1 428.2 102.6 427.3 104.1 426.4 105.6 425.6 107.1 424.7 108.6 423.8 110.1 422.9 111.6 422.0 113.1 421.2 114.6 420.3 116.1 419.4 117.6 418.5 119.1 417.6 120.6 416.7 122.1 415.8 123.6 415.0 125.1 414.1 126.6 413.2 128.1 412.3 129.6 411.5 131.1 410.6 132.6 409.7 134.1 408.8 135.6 408.0 137.1 407.1 138.6 406.3 140.1 405.4 141.6 404.6 143.1 403.7 144.6 402.9 146.1 402.1 147.6 401.2 149.1 400.4 150.6 399.6 152.1 398.8 153.6 397.9 155.1 397.1 156.6 396.3 158.1 395.5 159.6 394.8 161.1 394.0 162.6 393.2 164.1 392.4 165.6 391.7 167.1 390.9 168.6 390.2 170.1 389.4 171.6 388.7 173.1 388.0 174.6 387.3 176.1 386.5 177.6 385.8 179.1 385.2 180.6 384.5 182.1 383.8 183.6 383.1 185.1 382.5 186.6 381.8 188.1 381.2 189.6 380.5 191.1 379.9 192.6 379.2 194.1 378.6 195.6 378.0 197.1 377.3 198.6 376.7 200.1 376.1 201.6 375.5 203.1 374.9 204.6 374.3 206.1 373.6 207.6 373.0 209.1 372.4 210.6 371.8 212.1 371.2 213.6 370.6 215.1 369.9 216.6 369.3 218.1 368.7 219.6 368.1 221.1 367.5 222.6 366.8 224.1 366.2 225.6 365.6 227.1 365.0 228.6 364.3 230.1 363.7 231.6 363.1 233.1 362.5 234.6 361.9 236.1 361.3 237.6 360.7 239.1 360.1 240.6 359.5 242.1 358.9 243.6 358.3 245.1 357.8 246.6 357.2 248.1 356.7 249.6 356.1 251.1 355.6 252.6 355.0 254.1 354.5 255.6 354.0 257.1 353.5 258.6 353.0 260.1 352.5 261.6 352.0 263.1 351.5 264.6 351.0 266.1 350.5 267.6 350.0 269.1 349.5 270.6 349.1 272.1 348.6 273.6 348.2 275.1 347.7 276.6 347.3 278.1 346.8 279.6 346.4 281.1 346.0 282.6 345.5 284.1 345.1 285.6 344.7 287.1 344.3 288.6 343.9 290.1 343.5 291.6 343.1 293.1 342.7 294.6 342.3 296.1 342.0 297.6 341.6 299.1 341.2 300.6 340.9 302.1 340.5 303.6 340.1 305.1 339.8 306.6 339.4 308.1 339.1 309.6 338.8 311.1 338.4 312.6 338.1 314.1 337.8 315.6 337.4 317.1 337.1 318.6 336.8 320.1 336.5 321.6 336.2 323.1 335.9 324.6 335.6 326.1 335.3 327.6 335.0 329.1 334.7 330.6 334.4 332.1 334.2 333.6 333.9 335.1 333.6 336.6 333.4 338.1 333.1 339.6 332.9 341.1 332.6 342.6 332.4 344.1 332.2 345.6 331.9 347.1 331.7 348.6 331.5 350.1 331.2 351.6 331.0 353.1 330.8 354.6 330.6 356.1 330.3 357.6 330.1 359.1 329.9 360.6 329.7 362.1 329.5 363.6 329.3 365.1 329.1 366.6 328.9 368.1 328.7 369.6 328.5 371.1 328.3 372.6 328.1 374.1 327.9 375.6 327.7 377.1 327.6 378.6 327.4 380.1 327.2 381.6 327.0 383.1 326.8 384.6 326.7 386.1 326.5 387.6 326.3 389.1 326.1 390.6 326.0 392.1 325.8 393.6 325.6 395.1 325.5 396.6 325.3 398.1 325.1 399.6 325.0 401.1 324.8 402.6 324.6 404.1 324.5 405.6 324.3 407.1 324.2 408.6 324.0 410.1 323.9 411.6 323.7 413.1 323.5 414.6 323.4 416.1 323.2 417.6 323.1 419.1 322.9 420.6 322.8 422.1 322.6 423.6 322.5" stroke="#a5a5a5" stroke-width="0.7" fill="none"/>
<g fill="#fff" fill-opacity="0.3" stroke="#a5a5a5" stroke-width="1.0"><circle cx="99.6" cy="429.0" r="2.75"/><circle cx="106.1" cy="425.3" r="2.75"/><circle cx="112.6" cy="421.5" r="2.75"/><circle cx="119.1" cy="417.6" r="2.75"/><circle cx="125.5" cy="413.8" r="2.75"/><circle cx="132.0" cy="410.0" r="2.75"/><circle cx="138.5" cy="406.3" r="2.75"/><circle cx="145.0" cy="402.7" r="2.75"/><circle cx="151.5" cy="399.1" r="2.75"/><circle cx="158.0" cy="395.6" r="2.75"/><circle cx="164.5" cy="392.3" r="2.75"/><circle cx="170.9" cy="389.0" r="2.75"/><circle cx="177.4" cy="385.9" r="2.75"/><circle cx="183.9" cy="383.0" r="2.75"/><circle cx="190.4" cy="380.2" r="2.75"/><circle cx="196.9" cy="377.4" r="2.75"/><circle cx="203.4" cy="374.8" r="2.75"/><circle cx="209.9" cy="372.1" r="2.75"/><circle cx="216.3" cy="369.4" r="2.75"/><circle cx="222.8" cy="366.7" r="2.75"/><circle cx="229.3" cy="364.0" r="2.75"/><circle cx="235.8" cy="361.4" r="2.75"/><circle cx="242.3" cy="358.8" r="2.75"/><circle cx="248.8" cy="356.4" r="2.75"/><circle cx="255.3" cy="354.1" r="2.75"/><circle cx="261.8" cy="351.9" r="2.75"/><circle cx="268.2" cy="349.8" r="2.75"/><circle cx="274.7" cy="347.8" r="2.75"/><circle cx="281.2" cy="345.9" r="2.75"/><circle cx="287.7" cy="344.1" r="2.75"/><circle cx="294.2" cy="342.4" r="2.75"/><circle cx="300.7" cy="340.8" r="2.75"/><circle cx="307.2" cy="339.3" r="2.75"/><circle cx="313.6" cy="337.9" r="2.75"/><circle cx="320.1" cy="336.5" r="2.75"/><circle cx="326.6" cy="335.2" r="2.75"/><circle cx="333.1" cy="334.0" r="2.75"/><circle cx="339.6" cy="332.9" r="2.75"/><circle cx="346.1" cy="331.8" r="2.75"/><circle cx="352.6" cy="330.9" r="2.75"/><circle cx="359.0" cy="329.9" r="2.75"/><circle cx="365.5" cy="329.0" r="2.75"/><circle cx="372.0" cy="328.2" r="2.75"/><circle cx="378.5" cy="327.4" r="2.75"/><circle cx="385.0" cy="326.6" r="2.75"/><circle cx="391.5" cy="325.9" r="2.75"/><circle cx="398.0" cy="325.1" r="2.75"/><circle cx="404.4" cy="324.4" r="2.75"/><circle cx="410.9" cy="323.8" r="2.75"/><circle cx="417.4" cy="323.1" r="2.75"/><circle cx="423.9" cy="322.4" r="2.75"/></g>
<path d="M99.6 428.5L101.1 427.7 102.6 426.8 104.1 425.9 105.6 425.1 107.1 424.2 108.6 423.3 110.1 422.4 111.6 421.5 113.1 420.7 114.6 419.8 116.1 418.9 117.6 418.0 119.1 417.1 120.6 416.2 122.1 415.3 123.6 414.5 125.1 413.6 126.6 412.7 128.1 411.8 129.6 411.0 131.1 410.1 132.6 409.2 134.1 408.3 135.6 407.5 137.1 406.6 138.6 405.8 140.1 404.9 141.6 404.1 143.1 403.2 144.6 402.4 146.1 401.6 147.6 400.7 149.1 399.9 150.6 399.1 152.1 398.3 153.6 397.4 155.1 396.6 156.6 395.8 158.1 395.0 159.6 394.3 161.1 393.5 162.6 392.7 164.1 391.9 165.6 391.2 167.1 390.4 168.6 389.7 170.1 388.9 171.6 388.2 173.1 387.5 174.6 386.8 176.1 386.0 177.6 385.3 179.1 384.7 180.6 384.0 182.1 383.3 183.6 382.6 185.1 382.0 186.6 381.3 188.1 380.7 189.6 380.0 191.1 379.4 192.6 378.7 194.1 378.1 195.6 377.5 197.1 376.8 198.6 376.2 200.1 375.6 201.6 375.0 203.1 374.4 204.6 373.8 206.1 373.1 207.6 372.5 209.1 371.9 210.6 371.3 212.1 370.7 213.6 370.1 215.1 369.4 216.6 368.8 218.1 368.2 219.6 367.6 221.1 367.0 222.6 366.3 224.1 365.7 225.6 365.1 227.1 364.5 228.6 363.8 230.1 363.2 231.6 362.6 233.1 362.0 234.6 361.4 236.1 360.8 237.6 360.2 239.1 359.6 240.6 359.0 242.1 358.5 243.6 357.9 245.1 357.3 246.6 356.8 248.1 356.2 249.6 355.7 251.1 355.1 252.6 354.6 254.1 354.1 255.6 353.6 257.1 353.0 258.6 352.5 260.1 352.0 261.6 351.5 263.1 351.0 264.6 350.6 266.1 350.1 267.6 349.6 269.1 349.1 270.6 348.7 272.1 348.2 273.6 347.8 275.1 347.3 276.6 346.9 278.1 346.4 279.6 346.0 281.1 345.6 282.6 345.2 284.1 344.7 285.6 344.3 287.1 343.9 288.6 343.5 290.1 343.1 291.6 342.7 293.1 342.4 294.6 342.0 296.1 341.6 297.6 341.2 299.1 340.9 300.6 340.5 302.1 340.1 303.6 339.8 305.1 339.4 306.6 339.1 308.1 338.8 309.6 338.4 311.1 338.1 312.6 337.8 314.1 337.4 315.6 337.1 317.1 336.8 318.6 336.5 320.1 336.2 321.6 335.9 323.1 335.6 324.6 335.3 326.1 335.0 327.6 334.7 329.1 334.4 330.6 334.1 332.1 333.9 333.6 333.6 335.1 333.3 336.6 333.1 338.1 332.8 339.6 332.6 341.1 332.3 342.6 332.1 344.1 331.9 345.6 331.6 347.1 331.4 348.6 331.2 350.1 330.9 351.6 330.7 353.1 330.5 354.6 330.3 356.1 330.0 357.6 329.8 359.1 329.6 360.6 329.4 362.1 329.2 363.6 329.0 365.1 328.8 366.6 328.6 368.1 328.4 369.6 328.2 371.1 328.0 372.6 327.8 374.1 327.6 375.6 327.4 377.1 327.3 378.6 327.1 380.1 326.9 381.6 326.7 383.1 326.5 384.6 326.4 386.1 326.2 387.6 326.0 389.1 325.8 390.6 325.7 392.1 325.5 393.6 325.3 395.1 325.2 396.6 325.0 398.1 324.8 399.6 324.7 401.1 324.5 402.6 324.3 404.1 324.2 405.6 324.0 407.1 323.9 408.6 323.7 410.1 323.6 411.6 323.4 413.1 323.2 414.6 323.1 416.1 322.9 417.6 322.8 419.1 322.6 420.6 322.5 422.1 322.3 423.6 322.2" stroke="#70ad47" stroke-width="0.7" fill="none"/>
<g fill="#fff" fill-opacity="0.3" stroke="#70ad47" stroke-width="1.0"><circle cx="99.6" cy="428.5" r="2.75"/><circle cx="106.1" cy="424.8" r="2.75"/><circle cx="112.6" cy="421.0" r="2.75"/><circle cx="119.1" cy="417.1" r="2.75"/><circle cx="125.5" cy="413.3" r="2.75"/><circle cx="132.0" cy="409.5" r="2.75"/><circle cx="138.5" cy="405.8" r="2.75"/><circle cx="145.0" cy="402.2" r="2.75"/><circle cx="151.5" cy="398.6" r="2.75"/><circle cx="158.0" cy="395.1" r="2.75"/><circle cx="164.5" cy="391.8" r="2.75"/><circle cx="170.9" cy="388.5" r="2.75"/><circle cx="177.4" cy="385.4" r="2.75"/><circle cx="183.9" cy="382.5" r="2.75"/><circle cx="190.4" cy="379.7" r="2.75"/><circle cx="196.9" cy="376.9" r="2.75"/><circle cx="203.4" cy="374.3" r="2.75"/><circle cx="209.9" cy="371.6" r="2.75"/><circle cx="216.3" cy="368.9" r="2.75"/><circle cx="222.8" cy="366.2" r="2.75"/><circle cx="229.3" cy="363.5" r="2.75"/><circle cx="235.8" cy="360.9" r="2.75"/><circle cx="242.3" cy="358.4" r="2.75"/><circle cx="248.8" cy="356.0" r="2.75"/><circle cx="255.3" cy="353.7" r="2.75"/><circle cx="261.8" cy="351.5" r="2.75"/><circle cx="268.2" cy="349.4" r="2.75"/><circle cx="274.7" cy="347.4" r="2.75"/><circle cx="281.2" cy="345.6" r="2.75"/><circle cx="287.7" cy="343.8" r="2.75"/><circle cx="294.2" cy="342.1" r="2.75"/><circle cx="300.7" cy="340.5" r="2.75"/><circle cx="307.2" cy="339.0" r="2.75"/><circle cx="313.6" cy="337.5" r="2.75"/><circle cx="320.1" cy="336.2" r="2.75"/><circle cx="326.6" cy="334.9" r="2.75"/><circle cx="333.1" cy="333.7" r="2.75"/><circle cx="339.6" cy="332.6" r="2.75"/><circle cx="346.1" cy="331.5" r="2.75"/><circle cx="352.6" cy="330.6" r="2.75"/><circle cx="359.0" cy="329.6" r="2.75"/><circle cx="365.5" cy="328.7" r="2.75"/><circle cx="372.0" cy="327.9" r="2.75"/><circle cx="378.5" cy="327.1" r="2.75"/><circle cx="385.0" cy="326.3" r="2.75"/><circle cx="391.5" cy="325.6" r="2.75"/><circle cx="398.0" cy="324.8" r="2.75"/><circle cx="404.4" cy="324.1" r="2.75"/><circle cx="410.9" cy="323.5" r="2.75"/><circle cx="417.4" cy="322.8" r="2.75"/><circle cx="423.9" cy="322.1" r="2.75"/></g>
<path d="M99.6 428.0L101.1 427.2 102.6 426.3 104.1 425.4 105.6 424.6 107.1 423.7 108.6 422.8 110.1 421.9 111.6 421.0 113.1 420.2 114.6 419.3 116.1 418.4 117.6 417.5 119.1 416.6 120.6 415.7 122.1 414.8 123.6 414.0 125.1 413.1 126.6 412.2 128.1 411.3 129.6 410.5 131.1 409.6 132.6 408.7 134.1 407.8 135.6 407.0 137.1 406.1 138.6 405.3 140.1 404.4 141.6 403.6 143.1 402.7 144.6 401.9 146.1 401.1 147.6 400.2 149.1 399.4 150.6 398.6 152.1 397.8 153.6 396.9 155.1 396.1 156.6 395.3 158.1 394.5 159.6 393.8 161.1 393.0 162.6 392.2 164.1 391.4 165.6 390.7 167.1 389.9 168.6 389.2 170.1 388.4 171.6 387.7 173.1 387.0 174.6 386.3 176.1 385.5 177.6 384.8 179.1 384.2 180.6 383.5 182.1 382.8 183.6 382.1 185.1 381.5 186.6 380.8 188.1 380.2 189.6 379.5 191.1 378.9 192.6 378.2 194.1 377.6 195.6 377.0 197.1 376.3 198.6 375.7 200.1 375.1 201.6 374.5 203.1 373.9 204.6 373.3 206.1 372.6 207.6 372.0 209.1 371.4 210.6 370.8 212.1 370.2 213.6 369.6 215.1 368.9 216.6 368.3 218.1 367.7 219.6 367.1 221.1 366.5 222.6 365.9 224.1 365.3 225.6 364.7 227.1 364.1 228.6 363.5 230.1 362.9 231.6 362.3 233.1 361.7 234.6 361.1 236.1 360.5 237.6 360.0 239.1 359.4 240.6 358.8 242.1 358.3 243.6 357.7 245.1 357.2 246.6 356.6 248.1 356.1 249.6 355.6 251.1 355.1 252.6 354.5 254.1 354.0 255.6 353.5 257.1 353.0 258.6 352.6 260.1 352.1 261.6 351.6 263.1 351.1 264.6 350.7 266.1 350.2 267.6 349.8 269.1 349.3 270.6 348.9 272.1 348.4 273.6 348.0 275.1 347.6 276.6 347.1 278.1 346.7 279.6 346.3 281.1 345.9 282.6 345.5 284.1 345.1 285.6 344.7 287.1 344.3 288.6 344.0 290.1 343.6 291.6 343.2 293.1 342.9 294.6 342.5 296.1 342.1 297.6 341.8 299.1 341.4 300.6 341.1 302.1 340.8 303.6 340.4 305.1 340.1 306.6 339.8 308.1 339.5 309.6 339.1 311.1 338.8 312.6 338.5 314.1 338.2 315.6 337.9 317.1 337.6 318.6 337.3 320.1 337.0 321.6 336.8 323.1 336.5 324.6 336.2 326.1 335.9 327.6 335.6 329.1 335.4 330.6 335.1 332.1 334.9 333.6 334.6 335.1 334.3 336.6 334.1 338.1 333.8 339.6 333.6 341.1 333.3 342.6 333.1 344.1 332.9 345.6 332.6 347.1 332.4 348.6 332.2 350.1 331.9 351.6 331.7 353.1 331.5 354.6 331.3 356.1 331.0 357.6 330.8 359.1 330.6 360.6 330.4 362.1 330.2 363.6 330.0 365.1 329.8 366.6 329.6 368.1 329.4 369.6 329.2 371.1 329.0 372.6 328.8 374.1 328.6 375.6 328.4 377.1 328.3 378.6 328.1 380.1 327.9 381.6 327.7 383.1 327.5 384.6 327.4 386.1 327.2 387.6 327.0 389.1 326.8 390.6 326.7 392.1 326.5 393.6 326.3 395.1 326.2 396.6 326.0 398.1 325.8 399.6 325.7 401.1 325.5 402.6 325.3 404.1 325.2 405.6 325.0 407.1 324.9 408.6 324.7 410.1 324.6 411.6 324.4 413.1 324.2 414.6 324.1 416.1 323.9 417.6 323.8 419.1 323.6 420.6 323.5 422.1 323.3 423.6 323.2" stroke="#ed7d31" stroke-width="0.7" fill="none"/>
<g fill="#fff" fill-opacity="0.3" stroke="#ed7d31" stroke-width="1.0"><circle cx="99.6" cy="428.0" r="2.75"/><circle cx="106.1" cy="424.3" r="2.75"/><circle cx="112.6" cy="420.5" r="2.75"/><circle cx="119.1" cy="416.6" r="2.75"/><circle cx="125.5" cy="412.8" r="2.75"/><circle cx="132.0" cy="409.0" r="2.75"/><circle cx="138.5" cy="405.3" r="2.75"/><circle cx="145.0" cy="401.7" r="2.75"/><circle cx="151.5" cy="398.1" r="2.75"/><circle cx="158.0" cy="394.6" r="2.75"/><circle cx="164.5" cy="391.3" r="2.75"/><circle cx="170.9" cy="388.0" r="2.75"/><circle cx="177.4" cy="384.9" r="2.75"/><circle cx="183.9" cy="382.0" r="2.75"/><circle cx="190.4" cy="379.2" r="2.75"/><circle cx="196.9" cy="376.4" r="2.75"/><circle cx="203.4" cy="373.8" r="2.75"/><circle cx="209.9" cy="371.1" r="2.75"/><circle cx="216.3" cy="368.4" r="2.75"/><circle cx="222.8" cy="365.8" r="2.75"/><circle cx="229.3" cy="363.2" r="2.75"/><circle cx="235.8" cy="360.6" r="2.75"/><circle cx="242.3" cy="358.2" r="2.75"/><circle cx="248.8" cy="355.9" r="2.75"/><circle cx="255.3" cy="353.7" r="2.75"/><circle cx="261.8" cy="351.6" r="2.75"/><circle cx="268.2" cy="349.6" r="2.75"/><circle cx="274.7" cy="347.7" r="2.75"/><circle cx="281.2" cy="345.9" r="2.75"/><circle cx="287.7" cy="344.2" r="2.75"/><circle cx="294.2" cy="342.6" r="2.75"/><circle cx="300.7" cy="341.1" r="2.75"/><circle cx="307.2" cy="339.7" r="2.75"/><circle cx="313.6" cy="338.3" r="2.75"/><circle cx="320.1" cy="337.0" r="2.75"/><circle cx="326.6" cy="335.8" r="2.75"/><circle cx="333.1" cy="334.7" r="2.75"/><circle cx="339.6" cy="333.6" r="2.75"/><circle cx="346.1" cy="332.5" r="2.75"/><circle cx="352.6" cy="331.6" r="2.75"/><circle cx="359.0" cy="330.6" r="2.75"/><circle cx="365.5" cy="329.7" r="2.75"/><circle cx="372.0" cy="328.9" r="2.75"/><circle cx="378.5" cy="328.1" r="2.75"/><circle cx="385.0" cy="327.3" r="2.75"/><circle cx="391.5" cy="326.6" r="2.75"/><circle cx="398.0" cy="325.8" r="2.75"/><circle cx="404.4" cy="325.1" r="2.75"/><circle cx="410.9" cy="324.5" r="2.75"/><circle cx="417.4" cy="323.8" r="2.75"/><circle cx="423.9" cy="323.1" r="2.75"/></g>
<path d="M99.6 427.0L101.1 426.2 102.6 425.3 104.1 424.4 105.6 423.6 107.1 422.7 108.6 421.8 110.1 420.9 111.6 420.0 113.1 419.2 114.6 418.3 116.1 417.4 117.6 416.5 119.1 415.6 120.6 414.7 122.1 413.8 123.6 413.0 125.1 412.1 126.6 411.2 128.1 410.3 129.6 409.5 131.1 408.6 132.6 407.7 134.1 406.8 135.6 406.0 137.1 405.1 138.6 404.3 140.1 403.4 141.6 402.6 143.1 401.7 144.6 400.9 146.1 400.1 147.6 399.2 149.1 398.4 150.6 397.6 152.1 396.8 153.6 395.9 155.1 395.1 156.6 394.3 158.1 393.5 159.6 392.8 161.1 392.0 162.6 391.2 164.1 390.4 165.6 389.7 167.1 388.9 168.6 388.2 170.1 387.4 171.6 386.7 173.1 386.0 174.6 385.3 176.1 384.5 177.6 383.8 179.1 383.2 180.6 382.5 182.1 381.8 183.6 381.1 185.1 380.5 186.6 379.8 188.1 379.2 189.6 378.5 191.1 377.9 192.6 377.2 194.1 376.6 195.6 376.0 197.1 375.3 198.6 374.7 200.1 374.1 201.6 373.5 203.1 372.9 204.6 372.3 206.1 371.6 207.6 371.0 209.1 370.4 210.6 369.8 212.1 369.2 213.6 368.6 215.1 367.9 216.6 367.3 218.1 366.7 219.6 366.1 221.1 365.5 222.6 364.9 224.1 364.2 225.6 363.6 227.1 363.0 228.6 362.4 230.1 361.8 231.6 361.2 233.1 360.6 234.6 360.0 236.1 359.4 237.6 358.8 239.1 358.3 240.6 357.7 242.1 357.1 243.6 356.6 245.1 356.0 246.6 355.5 248.1 354.9 249.6 354.4 251.1 353.9 252.6 353.3 254.1 352.8 255.6 352.3 257.1 351.8 258.6 351.3 260.1 350.8 261.6 350.3 263.1 349.9 264.6 349.4 266.1 348.9 267.6 348.4 269.1 348.0 270.6 347.5 272.1 347.1 273.6 346.7 275.1 346.2 276.6 345.8 278.1 345.4 279.6 344.9 281.1 344.5 282.6 344.1 284.1 343.7 285.6 343.3 287.1 342.9 288.6 342.5 290.1 342.1 291.6 341.8 293.1 341.4 294.6 341.0 296.1 340.7 297.6 340.3 299.1 339.9 300.6 339.6 302.1 339.2 303.6 338.9 305.1 338.6 306.6 338.2 308.1 337.9 309.6 337.6 311.1 337.2 312.6 336.9 314.1 336.6 315.6 336.3 317.1 336.0 318.6 335.7 320.1 335.4 321.6 335.1 323.1 334.8 324.6 334.5 326.1 334.2 327.6 334.0 329.1 333.7 330.6 333.4 332.1 333.2 333.6 332.9 335.1 332.6 336.6 332.4 338.1 332.1 339.6 331.9 341.1 331.6 342.6 331.4 344.1 331.2 345.6 330.9 347.1 330.7 348.6 330.5 350.1 330.2 351.6 330.0 353.1 329.8 354.6 329.6 356.1 329.3 357.6 329.1 359.1 328.9 360.6 328.7 362.1 328.5 363.6 328.3 365.1 328.1 366.6 327.9 368.1 327.7 369.6 327.5 371.1 327.3 372.6 327.1 374.1 326.9 375.6 326.7 377.1 326.6 378.6 326.4 380.1 326.2 381.6 326.0 383.1 325.8 384.6 325.7 386.1 325.5 387.6 325.3 389.1 325.1 390.6 325.0 392.1 324.8 393.6 324.6 395.1 324.5 396.6 324.3 398.1 324.1 399.6 324.0 401.1 323.8 402.6 323.6 404.1 323.5 405.6 323.3 407.1 323.2 408.6 323.0 410.1 322.9 411.6 322.7 413.1 322.5 414.6 322.4 416.1 322.2 417.6 322.1 419.1 321.9 420.6 321.8 422.1 321.6 423.6 321.5" stroke="#ffc000" stroke-width="0.7" fill="none"/>
<g fill="#fff" fill-opacity="0.3" stroke="#ffc000" stroke-width="1.0"><circle cx="99.6" cy="427.0" r="2.75"/><circle cx="106.1" cy="423.3" r="2.75"/><circle cx="112.6" cy="419.5" r="2.75"/><circle cx="119.1" cy="415.6" r="2.75"/><circle cx="125.5" cy="411.8" r="2.75"/><circle cx="132.0" cy="408.0" r="2.75"/><circle cx="138.5" cy="404.3" r="2.75"/><circle cx="145.0" cy="400.7" r="2.75"/><circle cx="151.5" cy="397.1" r="2.75"/><circle cx="158.0" cy="393.6" r="2.75"/><circle cx="164.5" cy="390.3" r="2.75"/><circle cx="170.9" cy="387.0" r="2.75"/><circle cx="177.4" cy="383.9" r="2.75"/><circle cx="183.9" cy="381.0" r="2.75"/><circle cx="190.4" cy="378.2" r="2.75"/><circle cx="196.9" cy="375.4" r="2.75"/><circle cx="203.4" cy="372.8" r="2.75"/><circle cx="209.9" cy="370.1" r="2.75"/><circle cx="216.3" cy="367.4" r="2.75"/><circle cx="222.8" cy="364.8" r="2.75"/><circle cx="229.3" cy="362.1" r="2.75"/><circle cx="235.8" cy="359.5" r="2.75"/><circle cx="242.3" cy="357.1" r="2.75"/><circle cx="248.8" cy="354.7" r="2.75"/><circle cx="255.3" cy="352.4" r="2.75"/><circle cx="261.8" cy="350.3" r="2.75"/><circle cx="268.2" cy="348.3" r="2.75"/><circle cx="274.7" cy="346.3" r="2.75"/><circle cx="281.2" cy="344.5" r="2.75"/><circle cx="287.7" cy="342.8" r="2.75"/><circle cx="294.2" cy="341.1" r="2.75"/><circle cx="300.7" cy="339.6" r="2.75"/><circle cx="307.2" cy="338.1" r="2.75"/><circle cx="313.6" cy="336.7" r="2.75"/><circle cx="320.1" cy="335.4" r="2.75"/><circle cx="326.6" cy="334.1" r="2.75"/><circle cx="333.1" cy="333.0" r="2.75"/><circle cx="339.6" cy="331.9" r="2.75"/><circle cx="346.1" cy="330.8" r="2.75"/><circle cx="352.6" cy="329.9" r="2.75"/><circle cx="359.0" cy="328.9" r="2.75"/><circle cx="365.5" cy="328.0" r="2.75"/><circle cx="372.0" cy="327.2" r="2.75"/><circle cx="378.5" cy="326.4" r="2.75"/><circle cx="385.0" cy="325.6" r="2.75"/><circle cx="391.5" cy="324.9" r="2.75"/><circle cx="398.0" cy="324.1" r="2.75"/><circle cx="404.4" cy="323.4" r="2.75"/><circle cx="410.9" cy="322.8" r="2.75"/><circle cx="417.4" cy="322.1" r="2.75"/><circle cx="423.9" cy="321.4" r="2.75"/></g>
</g>
<text x="87.2" y="296.7" font-size="11" fill="#262626" stroke="#262626" text-anchor="end" textLength="10.4" lengthAdjust="spacingAndGlyphs">10</text>
<text x="87.8" y="293.7" font-size="7.6" fill="#262626" stroke="#262626">−4</text>
<text x="87.2" y="332.6" font-size="11" fill="#262626" stroke="#262626" text-anchor="end" textLength="10.4" lengthAdjust="spacingAndGlyphs">10</text>
<text x="87.8" y="329.6" font-size="7.6" fill="#262626" stroke="#262626">−5</text>
<text x="87.2" y="368.6" font-size="11" fill="#262626" stroke="#262626" text-anchor="end" textLength="10.4" lengthAdjust="spacingAndGlyphs">10</text>
<text x="87.8" y="365.6" font-size="7.6" fill="#262626" stroke="#262626">−6</text>
<text x="87.2" y="404.5" font-size="11" fill="#262626" stroke="#262626" text-anchor="end" textLength="10.4" lengthAdjust="spacingAndGlyphs">10</text>
<text x="87.8" y="401.5" font-size="7.6" fill="#262626" stroke="#262626">−7</text>
<text x="87.2" y="440.5" font-size="11" fill="#262626" stroke="#262626" text-anchor="end" textLength="10.4" lengthAdjust="spacingAndGlyphs">10</text>
<text x="87.8" y="437.5" font-size="7.6" fill="#262626" stroke="#262626">−8</text>
<text x="87.2" y="476.4" font-size="11" fill="#262626" stroke="#262626" text-anchor="end" textLength="10.4" lengthAdjust="spacingAndGlyphs">10</text>
<text x="87.8" y="473.4" font-size="7.6" fill="#262626" stroke="#262626">−9</text>
<text x="104" y="488.5" font-size="10.8" fill="#262626" stroke="#262626" text-anchor="middle" textLength="14.4" lengthAdjust="spacingAndGlyphs">0.5</text>
<text x="165.7" y="488.5" font-size="10.8" fill="#262626" stroke="#262626" text-anchor="middle" textLength="14.4" lengthAdjust="spacingAndGlyphs">0.6</text>
<text x="233" y="488.5" font-size="10.8" fill="#262626" stroke="#262626" text-anchor="middle" textLength="14.4" lengthAdjust="spacingAndGlyphs">0.7</text>
<text x="297.4" y="488.5" font-size="10.8" fill="#262626" stroke="#262626" text-anchor="middle" textLength="14.4" lengthAdjust="spacingAndGlyphs">0.8</text>
<text x="362.7" y="488.5" font-size="10.8" fill="#262626" stroke="#262626" text-anchor="middle" textLength="14.4" lengthAdjust="spacingAndGlyphs">0.9</text>
<text x="424.7" y="488.5" font-size="10.8" fill="#262626" stroke="#262626" text-anchor="middle" textLength="5.6" lengthAdjust="spacingAndGlyphs">1</text>
<text transform="translate(68.1 382.5) rotate(-90)" font-size="12.5" fill="#262626" stroke="#262626" text-anchor="middle" textLength="43.8" lengthAdjust="spacingAndGlyphs">I<tspan font-size="8.5" dy="2.5">C</tspan><tspan dy="-2.5">, I</tspan><tspan font-size="8.5" dy="2.5">B</tspan><tspan dy="-2.5"> [A]</tspan></text>
<text x="243.3" y="511.6" font-size="12.5" fill="#707070" stroke="#707070" textLength="37.5" lengthAdjust="spacingAndGlyphs">V<tspan font-size="8" dy="2">BE</tspan><tspan dy="-2"> [V]</tspan></text>
<text x="366" y="455" font-size="10.4" fill="#262626" stroke="#262626">V<tspan font-size="7.4">BC</tspan> = 0 [V]</text>
<text x="186" y="315.3" font-size="12.8" fill="#1a1a1a" stroke="#1a1a1a" textLength="91" lengthAdjust="spacingAndGlyphs">collector currents</text>
<rect x="297" y="421" width="74" height="14" fill="#fff"/>
<text x="299" y="432.7" font-size="12.8" fill="#1a1a1a" stroke="#1a1a1a" textLength="69.5" lengthAdjust="spacingAndGlyphs">base currents</text>
<ellipse cx="323.3" cy="333.3" rx="7.8" ry="12.2" fill="none" stroke="#2f5597" stroke-width="1.5" stroke-dasharray="3.4 2.5"/>
<ellipse cx="380.7" cy="369.3" rx="9.3" ry="12.6" fill="none" stroke="#2f5597" stroke-width="1.5" stroke-dasharray="3.4 2.5"/>
<path d="M284.5 315.3L309.9 324.9" stroke="#2f5597" stroke-width="1.7" fill="none"/><path d="M315.5 327.0L307.7 327.8L310.2 321.3Z" fill="#2f5597"/>
<path d="M341.7 423.3L372.7 385.2" stroke="#2f5597" stroke-width="1.7" fill="none"/><path d="M376.5 380.5L374.8 388.1L369.4 383.7Z" fill="#2f5597"/>
<text x="225.5" y="269.4" font-size="16" fill="#111" stroke="#111" text-anchor="middle">(<tspan font-weight="bold">a</tspan>)</text>
<text x="225.5" y="540" font-size="16" fill="#111" stroke="#111" text-anchor="middle">(<tspan font-weight="bold">b</tspan>)</text>
</svg></body></html>
